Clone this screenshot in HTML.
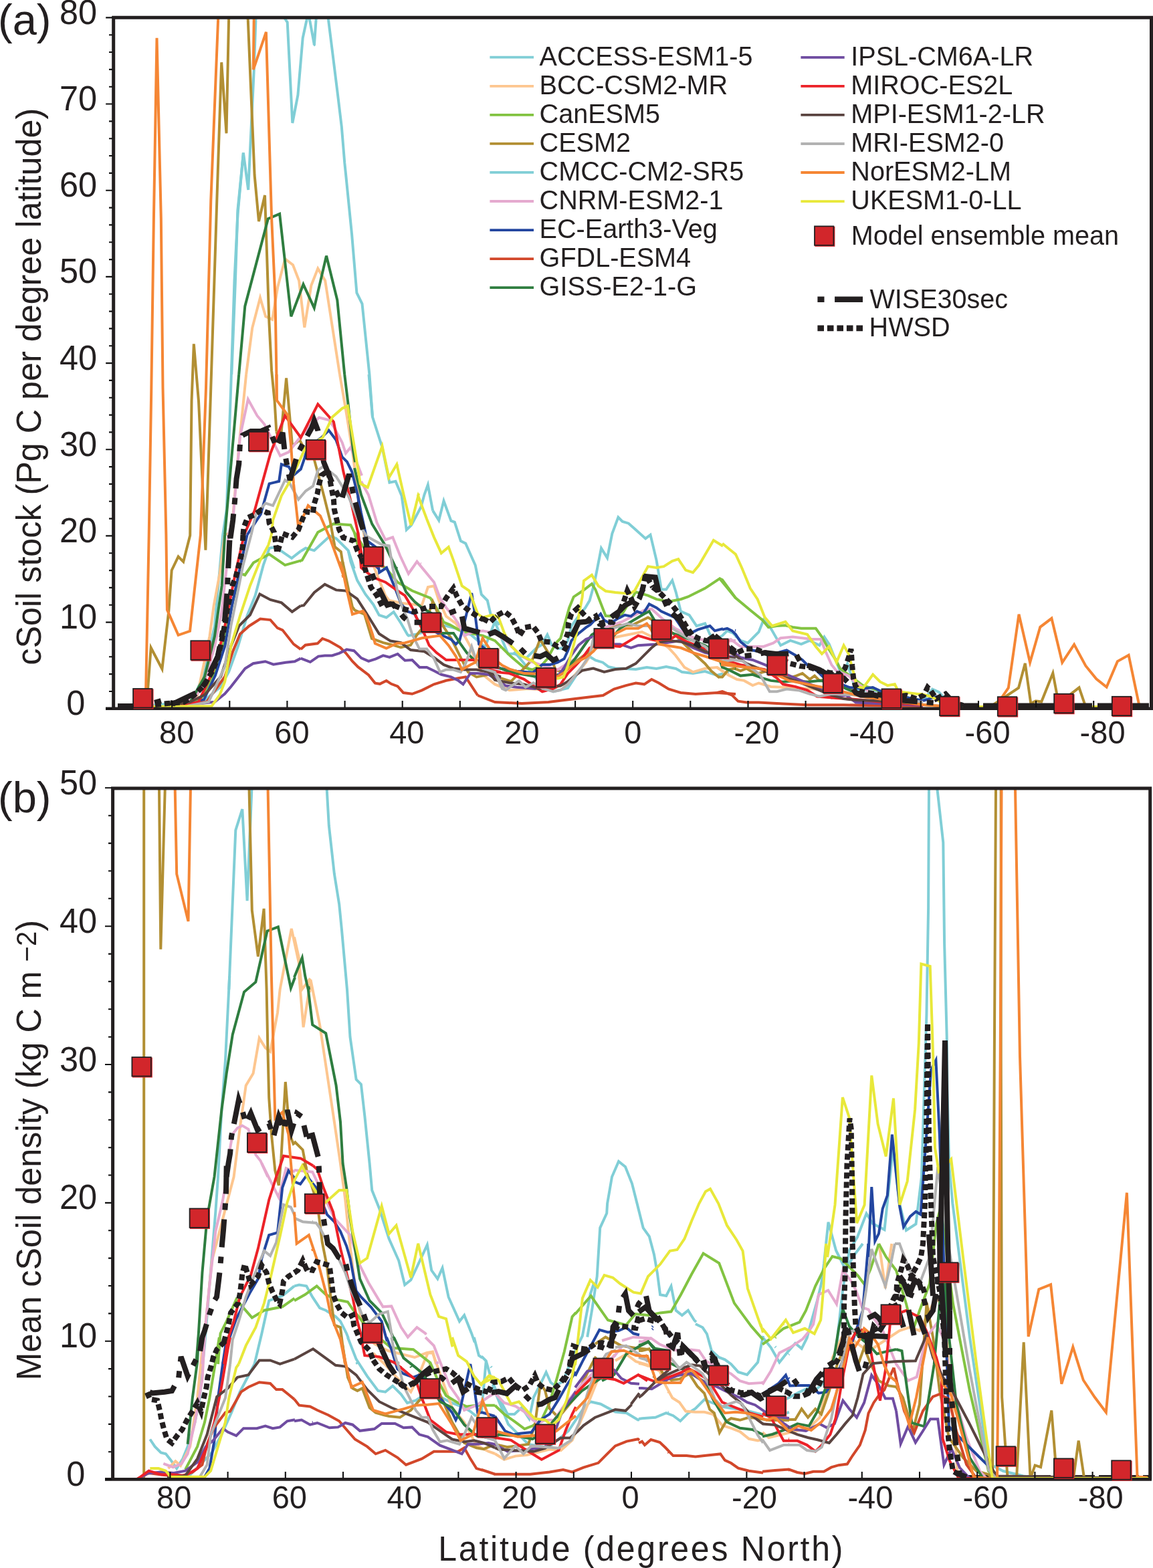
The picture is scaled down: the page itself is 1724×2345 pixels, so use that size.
<!DOCTYPE html><html><head><meta charset="utf-8"><title>cSoil latitude profiles</title><style>
html,body{margin:0;padding:0;background:#fff;overflow:hidden;}
svg{display:block;}
text{font-family:"Liberation Sans",Arial,Helvetica,sans-serif;fill:#231f20;}
</style></head><body><svg xmlns="http://www.w3.org/2000/svg" width="1724" height="2345" viewBox="0 0 1724 2345"><defs><clipPath id="ca"><rect x="170" y="28" width="1550" height="1030"/></clipPath><clipPath id="cb"><rect x="169" y="1181" width="1549" height="1030"/></clipPath></defs>
<path d="M214.0,1056.0 260.0,1052.0 293.8,1034.6 306.0,1004.3 321.0,936.2 333.2,800.0 338.9,761.6 345.2,580.0 350.5,420.0 355.5,320.0 363.9,228.5 371.2,283.9 379.7,105.9 382.5,27.8 400.0,-40.0 426.0,27.8 429.7,33.3 437.3,184.0 445.4,142.2 452.7,56.9 459.0,27.8 461.0,15.0 462.7,27.8 469.9,66.9" fill="none" stroke="#80ced6" stroke-width="4.0" stroke-linejoin="miter" stroke-miterlimit="4" stroke-linecap="butt" clip-path="url(#ca)" />
<path d="M300.0,1052.0 330.1,1027.0 342.3,1004.3 355.9,966.5 369.5,921.0 381.6,890.8 393.7,845.4 402.8,819.7 411.9,818.2 436.1,834.8 449.7,824.2" fill="none" stroke="#80ced6" stroke-width="4.0" stroke-linejoin="miter" stroke-miterlimit="4" stroke-linecap="butt" clip-path="url(#ca)" />
<path d="M449.7,824.2 457.1,819.7 469.8,823.3 493.4,801.5 502.5,805.1 520.7,823.3 529.7,850.5" fill="none" stroke="#80ced6" stroke-width="4.0" stroke-linejoin="miter" stroke-miterlimit="4" stroke-linecap="butt" clip-path="url(#ca)" />
<path d="M551.5,560.0 557.0,623.6 571.5,669.0 582.4,721.6 591.5,719.8 600.6,741.6 607.8,792.4 615.1,785.2 629.6,758.0" fill="none" stroke="#80ced6" stroke-width="4.0" stroke-linejoin="miter" stroke-miterlimit="4" stroke-linecap="butt" clip-path="url(#ca)" />
<path d="M346.3,560.0 351.8,423.4 355.4,314.5 360.9,260.0 363.9,228.5" fill="none" stroke="#80ced6" stroke-width="4.0" stroke-linejoin="miter" stroke-miterlimit="4" stroke-linecap="butt" clip-path="url(#ca)" />
<path d="M468.7,67.8 469.9,66.9 472.7,27.8 481.0,-20.0 490.8,27.8 496.3,71.4 505.3,144.0 510.8,189.4 515.3,243.9 517.0,260.0 526.1,350.8 533.4,438.0 541.5,454.3 552.4,560.0 557.0,623.6" fill="none" stroke="#80ced6" stroke-width="4.0" stroke-linejoin="miter" stroke-miterlimit="4" stroke-linecap="butt" clip-path="url(#ca)" />
<path d="M647.1,763.6 656.2,778.1 663.5,749.1 674.4,779.0 679.8,780.9 688.9,809.0 696.2,812.6 703.4,829.0 710.7,845.3 719.8,888.9 728.8,898.0 734.3,921.6 747.0,934.3" fill="none" stroke="#80ced6" stroke-width="4.0" stroke-linejoin="miter" stroke-miterlimit="4" stroke-linecap="butt" clip-path="url(#ca)" />
<path d="M629.6,758.0 634.4,740.0 639.8,725.1 647.1,763.6" fill="none" stroke="#80ced6" stroke-width="4.0" stroke-linejoin="miter" stroke-miterlimit="4" stroke-linecap="butt" clip-path="url(#ca)" />
<path d="M520.7,823.3 524.4,840.0 534.1,867.8 546.2,888.4 558.3,904.2 566.8,919.9 577.7,923.5 588.6,915.1 599.5,932.0 609.2,949.0 610.8,950.6 621.7,948.8 634.4,945.2 645.0,942.0 658.0,936.1 667.1,936.1 681.6,939.7 694.4,947.0 703.4,948.8 714.3,957.9 725.0,968.0" fill="none" stroke="#80ced6" stroke-width="4.0" stroke-linejoin="miter" stroke-miterlimit="4" stroke-linecap="butt" clip-path="url(#ca)" />
<path d="M714.3,957.9 725.0,968.0 740.0,929.7 750.0,955.0 759.6,977.7 768.3,977.7 786.9,984.2 802.1,969.0 809.7,964.6 818.4,949.3 825.0,964.6 833.7,970.0 843.5,969.0 849.0,958.1 854.4,936.3 865.3,921.0 875.1,909.0 881.6,898.1 888.2,874.2 892.6,852.6 899.0,819.9 908.0,834.4 915.3,798.1 924.4,773.6 930.7,780.0 939.8,782.7 948.9,790.8 965.2,805.4 972.5,799.9 981.6,838.1 988.8,881.6 996.1,881.6 1005.2,868.0 1010.6,885.3 1017.9,914.3 1030.6,919.8 1041.5,936.1 1054.2,932.5 1061.5,948.8 1072.4,954.3 1073.4,953.8" fill="none" stroke="#80ced6" stroke-width="4.0" stroke-linejoin="miter" stroke-miterlimit="4" stroke-linecap="butt" clip-path="url(#ca)" />
<path d="M1099.0,951.8 1100.0,952.0" fill="none" stroke="#80ced6" stroke-width="4.0" stroke-linejoin="miter" stroke-miterlimit="4" stroke-linecap="butt" clip-path="url(#ca)" />
<path d="M768.8,974.3 790.0,1000.0 810.0,1025.0 827.2,1034.3 849.0,1028.9 865.0,1005.0 881.6,982.0 890.4,987.5 901.3,990.7 910.0,997.3 920.0,999.5 935.0,1000.0 950.7,1001.0 967.1,998.0 981.6,1000.0 996.1,997.0 1010.6,1000.0 1019.7,1005.0 1036.1,1007.0 1054.2,1004.0 1072.0,1010.0 1090.0,1005.0" fill="none" stroke="#80ced6" stroke-width="4.0" stroke-linejoin="miter" stroke-miterlimit="4" stroke-linecap="butt" clip-path="url(#ca)" />
<path d="M1072.4,954.3 1080.0,950.7 1087.3,943.4 1096.3,947.0 1107.2,957.9 1118.1,961.6 1134.5,945.2 1141.7,927.1 1152.6,939.8 1167.2,965.2 1181.7,957.9 1198.0,963.4 1210.7,957.9 1225.3,965.2 1232.5,952.5 1239.8,963.4 1247.1,981.5 1256.1,1003.3 1261.6,1003.3 1267.0,992.4 1279.7,1032.4 1294.3,1032.4 1320.0,1038.0 1350.0,1042.0 1380.0,1048.0" fill="none" stroke="#80ced6" stroke-width="4.0" stroke-linejoin="miter" stroke-miterlimit="4" stroke-linecap="butt" clip-path="url(#ca)" />
<path d="M1380.0,1048.0 1394.2,1030.8 1404.0,1035.2 1410.6,1042.8 1420.0,1052.0 1430.0,1057.0 1718.0,1057.0" fill="none" stroke="#80ced6" stroke-width="4.0" stroke-linejoin="miter" stroke-miterlimit="4" stroke-linecap="butt" clip-path="url(#ca)" />
<path d="M270.0,1056.0 295.0,1040.0 313.5,951.3 319.6,906.0 328.6,857.5 336.0,800.0" fill="none" stroke="#fdc68f" stroke-width="4.0" stroke-linejoin="miter" stroke-miterlimit="4" stroke-linecap="butt" clip-path="url(#ca)" />
<path d="M336.0,800.0 346.3,796.1 357.2,669.0 368.1,560.0" fill="none" stroke="#fdc68f" stroke-width="4.0" stroke-linejoin="miter" stroke-miterlimit="4" stroke-linecap="butt" clip-path="url(#ca)" />
<path d="M508.0,560.0 518.9,623.6 526.1,669.0 533.4,723.4 540.6,777.9 546.0,810.0" fill="none" stroke="#fdc68f" stroke-width="4.0" stroke-linejoin="miter" stroke-miterlimit="4" stroke-linecap="butt" clip-path="url(#ca)" />
<path d="M368.1,560.0 377.2,490.6 389.0,445.2 397.2,473.4 407.2,477.9 415.3,428.9 426.2,387.1 438.0,396.2 447.1,419.8 455.3,489.7 465.3,427.1 475.3,401.6 486.2,419.8 508.0,560.0" fill="none" stroke="#fdc68f" stroke-width="4.0" stroke-linejoin="miter" stroke-miterlimit="4" stroke-linecap="butt" clip-path="url(#ca)" />
<path d="M546.0,810.0 560.0,850.0 576.3,890.7 581.8,898.0 600.0,902.0 630.8,905.2 639.9,878.0 649.0,876.2 656.2,898.0 667.1,921.6 681.6,932.5 692.5,947.0 703.4,967.0 712.0,990.0 721.6,1008.8 722.6,1009.5" fill="none" stroke="#fdc68f" stroke-width="4.0" stroke-linejoin="miter" stroke-miterlimit="4" stroke-linecap="butt" clip-path="url(#ca)" />
<path d="M756.9,1028.3 757.9,1028.7" fill="none" stroke="#fdc68f" stroke-width="4.0" stroke-linejoin="miter" stroke-miterlimit="4" stroke-linecap="butt" clip-path="url(#ca)" />
<path d="M721.6,1008.8 740.0,1023.4 761.8,1032.2 790.0,1030.0 820.0,1032.0 849.0,1021.3 876.2,990.7 890.0,965.0 910.0,955.0 935.0,950.0 960.0,945.0 980.0,955.0 999.7,968.8 1010.0,980.0 1023.4,997.9 1036.1,1005.1 1054.2,999.7 1072.0,998.0 1090.0,1010.0" fill="none" stroke="#fdc68f" stroke-width="4.0" stroke-linejoin="miter" stroke-miterlimit="4" stroke-linecap="butt" clip-path="url(#ca)" />
<path d="M1072.0,998.0 1080.0,1003.3 1090.9,1010.6 1101.8,1016.0 1112.7,1017.9 1125.4,1025.1 1134.5,1021.5 1152.6,1027.0 1189.0,1028.8 1225.0,1031.0 1260.0,1036.0 1290.0,1042.0 1330.0,1048.0 1380.0,1054.0" fill="none" stroke="#fdc68f" stroke-width="4.0" stroke-linejoin="miter" stroke-miterlimit="4" stroke-linecap="butt" clip-path="url(#ca)" />
<path d="M270.0,1056.0 300.0,1046.0 321.0,1004.3 335.0,960.0 348.3,898.4 358.9,857.5 359.9,856.5" fill="none" stroke="#82c341" stroke-width="4.0" stroke-linejoin="miter" stroke-miterlimit="4" stroke-linecap="butt" clip-path="url(#ca)" />
<path d="M448.7,839.6 449.7,839.3" fill="none" stroke="#82c341" stroke-width="4.0" stroke-linejoin="miter" stroke-miterlimit="4" stroke-linecap="butt" clip-path="url(#ca)" />
<path d="M358.9,857.5 366.3,860.0 379.0,841.5 402.6,828.8 426.2,845.1 451.7,837.8 475.3,796.1 498.9,783.4 524.3,785.2 529.7,796.1 544.3,850.5" fill="none" stroke="#82c341" stroke-width="4.0" stroke-linejoin="miter" stroke-miterlimit="4" stroke-linecap="butt" clip-path="url(#ca)" />
<path d="M529.7,796.1 540.0,812.6 558.2,841.7 576.3,849.0 594.5,870.7 616.3,883.5 643.5,894.4 652.6,908.9 663.5,930.7 672.6,934.3 685.3,941.6 703.4,947.0 721.6,950.6 722.6,951.1" fill="none" stroke="#82c341" stroke-width="4.0" stroke-linejoin="miter" stroke-miterlimit="4" stroke-linecap="butt" clip-path="url(#ca)" />
<path d="M747.8,967.9 748.8,968.8" fill="none" stroke="#82c341" stroke-width="4.0" stroke-linejoin="miter" stroke-miterlimit="4" stroke-linecap="butt" clip-path="url(#ca)" />
<path d="M721.6,950.6 740.0,958.1 761.8,979.9 783.6,998.4 796.7,1001.6 810.8,994.0 818.4,985.3 827.2,969.0 832.6,960.2 838.1,954.8 843.5,936.3 851.1,909.0 857.7,892.7 870.7,884.0 884.9,873.1 890.4,881.8 905.6,921.0 920.0,922.1 927.1,923.4 941.6,899.8 950.7,885.3 968.9,890.7 981.6,896.2 999.7,899.8 1017.9,896.2 1028.8,892.5 1054.2,879.8 1076.0,865.3 1100.0,894.4" fill="none" stroke="#82c341" stroke-width="4.0" stroke-linejoin="miter" stroke-miterlimit="4" stroke-linecap="butt" clip-path="url(#ca)" />
<path d="M1076.0,865.3 1080.0,867.1 1100.0,894.4 1121.8,912.5 1139.9,927.1 1149.0,938.0 1161.7,936.1 1174.4,935.2 1185.3,938.0 1198.0,939.8 1219.8,939.8 1228.9,952.5 1238.0,968.8 1250.7,988.8 1256.1,999.7 1270.0,1010.0 1290.0,1025.0 1320.0,1035.0 1350.0,1042.0 1380.0,1048.0" fill="none" stroke="#82c341" stroke-width="4.0" stroke-linejoin="miter" stroke-miterlimit="4" stroke-linecap="butt" clip-path="url(#ca)" />
<path d="M213.0,1058.0 221.2,1028.5 225.7,968.7 242.4,1000.5 252.2,915.0 256.7,853.0 266.6,832.5 274.2,840.1 284.2,800.8 286.5,600.0 289.8,514.3 297.0,600.0 307.4,822.7 315.3,580.0 324.3,300.0 331.2,93.2 338.5,199.4 342.1,27.8 356.0,-60.0 370.7,27.8 375.2,135.0 380.6,262.0 387.0,331.0 396.0,292.0 398.8,372.6 402.4,481.6 406.1,554.2 410.6,600.0 413.3,645.4" fill="none" stroke="#b28f33" stroke-width="4.0" stroke-linejoin="miter" stroke-miterlimit="4" stroke-linecap="butt" clip-path="url(#ca)" />
<path d="M413.3,645.4 419.0,663.5 428.1,565.4 437.1,667.1 448.0,658.0 460.0,680.0 469.8,687.1 484.3,741.6 493.4,777.9 500.7,817.9 509.8,825.1 515.2,860.0" fill="none" stroke="#b28f33" stroke-width="4.0" stroke-linejoin="miter" stroke-miterlimit="4" stroke-linecap="butt" clip-path="url(#ca)" />
<path d="M512.3,840.0 522.0,886.0 526.9,907.8 530.5,912.6 545.0,918.7 555.9,955.0 572.9,961.1 587.4,964.7 599.5,968.3 614.0,964.7 623.7,949.0 635.0,935.0 647.1,899.8 663.5,937.9 674.4,954.3 685.3,976.1 699.8,1005.1 712.5,1012.4 730.7,1008.8 748.8,1014.2" fill="none" stroke="#b28f33" stroke-width="4.0" stroke-linejoin="miter" stroke-miterlimit="4" stroke-linecap="butt" clip-path="url(#ca)" />
<path d="M730.7,1008.8 748.8,1014.2 764.0,1019.1 772.7,1010.4 785.0,998.0 796.7,985.3 807.6,955.9 816.0,970.0 825.0,985.3 830.4,1001.6 840.0,1005.0 860.0,990.0 880.0,975.0 906.7,938.4 925.0,935.0 945.0,935.0 968.9,923.4 990.0,935.0 1010.0,950.0 1035.0,975.0 1054.2,992.4 1063.3,1003.3 1074.2,1012.4 1075.2,1011.4" fill="none" stroke="#b28f33" stroke-width="4.0" stroke-linejoin="miter" stroke-miterlimit="4" stroke-linecap="butt" clip-path="url(#ca)" />
<path d="M1099.0,1000.2 1100.0,1000.0" fill="none" stroke="#b28f33" stroke-width="4.0" stroke-linejoin="miter" stroke-miterlimit="4" stroke-linecap="butt" clip-path="url(#ca)" />
<path d="M1074.2,1012.4 1080.0,1012.4 1089.1,1001.5 1098.2,999.7 1107.2,1003.3 1116.3,999.7 1130.0,1008.0 1145.0,1004.0 1158.0,1008.0 1170.8,1010.6 1179.9,1014.2 1190.8,1010.6 1199.8,1007.0 1210.7,1016.0 1218.0,1010.6 1225.3,1017.9 1240.0,1015.0 1260.0,1025.0 1280.0,1035.0 1310.0,1045.0 1340.0,1050.0 1380.0,1054.0" fill="none" stroke="#b28f33" stroke-width="4.0" stroke-linejoin="miter" stroke-miterlimit="4" stroke-linecap="butt" clip-path="url(#ca)" />
<path d="M1380.0,1054.0 1420.0,1057.0 1484.0,1057.0 1486.3,1053.2 1523.0,1028.7 1532.8,992.1 1541.3,1052.0 1548.7,1048.3 1557.2,1049.5 1574.3,1006.7 1582.9,1052.0 1613.5,1028.3 1622.0,1053.2 1626.0,1057.0 1718.0,1057.0" fill="none" stroke="#b28f33" stroke-width="4.0" stroke-linejoin="miter" stroke-miterlimit="4" stroke-linecap="butt" clip-path="url(#ca)" />
<path d="M260.0,1056.0 290.0,1045.0 306.0,1019.4 321.0,966.5 331.7,913.5 339.2,845.4 341.5,800.0" fill="none" stroke="#e5aacf" stroke-width="4.0" stroke-linejoin="miter" stroke-miterlimit="4" stroke-linecap="butt" clip-path="url(#ca)" />
<path d="M341.5,800.0 348.2,777.9 359.0,652.6 370.9,597.2 384.5,621.7 395.4,634.5 404.4,652.6 419.0,681.7 431.7,676.2 442.6,661.7 460.0,640.0 477.1,624.5 491.6,628.1 498.9,638.1 511.6,661.7 517.0,678.0 524.3,669.0 535.2,696.2 541.0,711.2" fill="none" stroke="#e5aacf" stroke-width="4.0" stroke-linejoin="miter" stroke-miterlimit="4" stroke-linecap="butt" clip-path="url(#ca)" />
<path d="M628.6,842.9 629.6,843.3" fill="none" stroke="#e5aacf" stroke-width="4.0" stroke-linejoin="miter" stroke-miterlimit="4" stroke-linecap="butt" clip-path="url(#ca)" />
<path d="M540.0,720.0 550.9,740.0 563.6,781.8 576.3,807.2 587.2,803.6 598.1,830.8 610.8,858.0 623.5,839.9 649.0,870.7 658.0,894.4 667.1,908.9 678.0,921.6 685.3,932.5 694.4,950.6 707.1,945.2 721.6,943.4 722.6,943.6" fill="none" stroke="#e5aacf" stroke-width="4.0" stroke-linejoin="miter" stroke-miterlimit="4" stroke-linecap="butt" clip-path="url(#ca)" />
<path d="M755.1,957.2 756.1,957.9" fill="none" stroke="#e5aacf" stroke-width="4.0" stroke-linejoin="miter" stroke-miterlimit="4" stroke-linecap="butt" clip-path="url(#ca)" />
<path d="M721.6,943.4 739.7,947.0 756.3,958.1 776.0,977.9 792.3,988.6 810.0,995.0 833.7,1001.6 860.0,985.0 881.6,953.7 900.0,940.0 930.0,930.0 963.4,912.5 974.3,910.7 990.0,925.0 1010.0,940.0 1040.0,955.0 1070.0,960.0 1100.0,958.0" fill="none" stroke="#e5aacf" stroke-width="4.0" stroke-linejoin="miter" stroke-miterlimit="4" stroke-linecap="butt" clip-path="url(#ca)" />
<path d="M1070.0,960.0 1092.7,956.1 1107.2,967.0 1125.4,967.0 1141.7,967.0 1156.3,961.6 1167.2,954.3 1185.3,952.5 1199.8,954.3 1214.4,956.1 1227.1,956.1 1234.4,974.3 1243.4,994.2 1250.7,1003.3 1268.9,1010.6 1276.1,1017.9 1300.0,1035.0 1340.0,1045.0 1380.0,1050.0" fill="none" stroke="#e5aacf" stroke-width="4.0" stroke-linejoin="miter" stroke-miterlimit="4" stroke-linecap="butt" clip-path="url(#ca)" />
<path d="M280.0,1056.0 305.0,1046.0 322.0,1010.0 336.2,966.5 346.8,906.0 357.4,856.0 369.5,800.0" fill="none" stroke="#2346a0" stroke-width="4.0" stroke-linejoin="miter" stroke-miterlimit="4" stroke-linecap="butt" clip-path="url(#ca)" />
<path d="M369.5,800.0 389.9,768.8 402.6,723.4 409.9,721.6 417.2,719.8 420.8,694.4 431.7,698.0 439.0,710.7 449.8,701.6 455.3,685.3 458.9,672.6 470.0,662.0 480.7,654.4 491.6,643.5 502.5,658.0 511.6,683.5 518.9,690.7 526.1,705.3 535.2,741.6 538.8,777.9 547.9,805.1 557.0,841.5 566.1,850.5" fill="none" stroke="#2346a0" stroke-width="4.0" stroke-linejoin="miter" stroke-miterlimit="4" stroke-linecap="butt" clip-path="url(#ca)" />
<path d="M535.2,741.6 540.0,767.2 549.1,809.0 561.8,818.1 567.2,856.2 578.1,849.0 590.8,879.8 599.9,903.4 609.0,914.3 619.9,918.0 627.2,932.5 658.0,948.8 674.4,956.1 681.6,963.4 687.1,957.9 694.4,930.7 705.2,887.1 710.7,921.6 716.1,963.4 723.4,968.8 724.4,970.6" fill="none" stroke="#2346a0" stroke-width="4.0" stroke-linejoin="miter" stroke-miterlimit="4" stroke-linecap="butt" clip-path="url(#ca)" />
<path d="M756.9,1001.3 757.9,1001.5" fill="none" stroke="#2346a0" stroke-width="4.0" stroke-linejoin="miter" stroke-miterlimit="4" stroke-linecap="butt" clip-path="url(#ca)" />
<path d="M723.4,968.8 739.7,997.9 757.9,1001.5 772.7,1003.8 796.7,1006.0 810.8,994.0 822.8,994.0 833.7,990.7 843.5,985.3 849.0,973.3 854.4,958.1 865.3,947.2 876.2,938.4 882.7,934.1 898.1,918.0 903.4,927.6 912.6,932.5 923.5,925.2 934.4,919.8 943.5,921.6 952.5,914.3 961.6,918.0 970.7,903.4 981.6,908.9 988.8,914.3 1008.8,923.4 1020.0,940.0 1028.8,948.8 1043.3,941.6 1061.5,936.1 1068.8,943.4 1081.0,940.3" fill="none" stroke="#2346a0" stroke-width="4.0" stroke-linejoin="miter" stroke-miterlimit="4" stroke-linecap="butt" clip-path="url(#ca)" />
<path d="M1099.0,942.8 1100.0,943.0" fill="none" stroke="#2346a0" stroke-width="4.0" stroke-linejoin="miter" stroke-miterlimit="4" stroke-linecap="butt" clip-path="url(#ca)" />
<path d="M1080.0,941.6 1087.3,939.8 1094.5,943.4 1100.0,948.8 1107.2,959.7 1116.3,967.0 1125.4,972.5 1134.5,974.3 1149.0,977.9 1159.9,977.0 1176.2,972.5 1189.0,979.7 1199.8,987.0 1208.9,996.1 1221.6,1003.3 1230.7,1012.4 1250.0,1020.0 1270.0,1028.0 1290.0,1030.0 1305.0,1028.0 1320.0,1035.0 1340.0,1040.0 1380.0,1048.0" fill="none" stroke="#2346a0" stroke-width="4.0" stroke-linejoin="miter" stroke-miterlimit="4" stroke-linecap="butt" clip-path="url(#ca)" />
<path d="M1380.0,1048.0 1400.7,1041.7 1415.0,1050.0 1425.0,1057.0" fill="none" stroke="#2346a0" stroke-width="4.0" stroke-linejoin="miter" stroke-miterlimit="4" stroke-linecap="butt" clip-path="url(#ca)" />
<path d="M260.0,1056.0 309.0,1049.7 336.2,1011.9 348.3,974.0 358.9,948.3 372.5,936.2 389.2,925.6 404.3,927.1 414.9,939.2 422.5,942.3 439.1,963.4 449.7,971.0" fill="none" stroke="#d2472a" stroke-width="4.0" stroke-linejoin="miter" stroke-miterlimit="4" stroke-linecap="butt" clip-path="url(#ca)" />
<path d="M449.7,971.0 456.6,964.7 474.8,962.3 482.1,955.0 491.7,958.6 508.7,968.3 517.2,976.8 526.9,988.9 535.3,997.4 551.1,1009.5 560.8,1021.6 568.0,1022.8 577.7,1018.0 585.0,1022.8 594.6,1026.4 603.1,1036.1 616.3,1037.8 630.8,1032.4 649.0,1023.3 667.1,1017.8 685.3,1014.2 696.2,1012.4 703.4,1023.3 714.3,1040.0" fill="none" stroke="#d2472a" stroke-width="4.0" stroke-linejoin="miter" stroke-miterlimit="4" stroke-linecap="butt" clip-path="url(#ca)" />
<path d="M714.3,1040.0 740.0,1050.0 780.0,1052.0 820.0,1050.0 860.0,1045.0 885.0,1042.0 901.7,1040.0 918.0,1030.5 936.2,1025.1 950.7,1021.5 963.4,1023.3 974.3,1016.0 985.2,1021.5 999.7,1030.5 1017.9,1036.0 1040.0,1038.0 1072.4,1036.0 1100.0,1038.0" fill="none" stroke="#d2472a" stroke-width="4.0" stroke-linejoin="miter" stroke-miterlimit="4" stroke-linecap="butt" clip-path="url(#ca)" />
<path d="M1072.4,1036.0 1080.0,1034.2 1094.5,1039.6 1103.6,1048.7 1116.3,1050.5 1134.5,1050.5 1170.8,1052.4 1207.1,1054.2 1261.6,1054.2 1300.0,1055.0 1380.0,1056.0" fill="none" stroke="#d2472a" stroke-width="4.0" stroke-linejoin="miter" stroke-miterlimit="4" stroke-linecap="butt" clip-path="url(#ca)" />
<path d="M260.0,1056.0 284.7,1049.7 306.0,1011.9 321.0,951.3 331.7,875.7 336.2,800.0" fill="none" stroke="#2e7d3f" stroke-width="4.0" stroke-linejoin="miter" stroke-miterlimit="4" stroke-linecap="butt" clip-path="url(#ca)" />
<path d="M336.2,800.0 357.2,560.0" fill="none" stroke="#2e7d3f" stroke-width="4.0" stroke-linejoin="miter" stroke-miterlimit="4" stroke-linecap="butt" clip-path="url(#ca)" />
<path d="M515.2,560.0 520.7,605.4 527.9,672.6 531.0,691.2" fill="none" stroke="#2e7d3f" stroke-width="4.0" stroke-linejoin="miter" stroke-miterlimit="4" stroke-linecap="butt" clip-path="url(#ca)" />
<path d="M592.3,848.5 593.3,850.5" fill="none" stroke="#2e7d3f" stroke-width="4.0" stroke-linejoin="miter" stroke-miterlimit="4" stroke-linecap="butt" clip-path="url(#ca)" />
<path d="M357.2,560.0 366.3,457.9 400.8,327.2 418.1,319.9 435.3,473.4 453.5,425.2 469.8,460.7 488.0,382.6 504.3,448.8 515.2,560.0" fill="none" stroke="#2e7d3f" stroke-width="4.0" stroke-linejoin="miter" stroke-miterlimit="4" stroke-linecap="butt" clip-path="url(#ca)" />
<path d="M530.0,700.0 540.0,740.0 556.3,783.6 576.3,816.3 590.8,847.1 607.2,885.3 619.9,899.8 630.8,908.9 652.6,921.6 659.8,947.0 678.0,947.0 688.9,963.4 698.0,976.1 712.5,990.6 721.6,997.9 722.6,998.1" fill="none" stroke="#2e7d3f" stroke-width="4.0" stroke-linejoin="miter" stroke-miterlimit="4" stroke-linecap="butt" clip-path="url(#ca)" />
<path d="M756.9,1001.5 757.9,1001.5" fill="none" stroke="#2e7d3f" stroke-width="4.0" stroke-linejoin="miter" stroke-miterlimit="4" stroke-linecap="butt" clip-path="url(#ca)" />
<path d="M721.6,997.9 740.0,996.2 761.8,1004.9 798.8,1011.5 820.0,1012.0 840.0,1008.0 860.0,985.0 884.9,949.3 901.7,939.7 918.0,950.6 927.1,939.7 945.3,928.8 963.4,918.0 970.7,914.3 981.6,932.5 1000.0,945.0 1036.1,957.9 1054.2,965.2 1072.4,976.1 1073.4,977.3" fill="none" stroke="#2e7d3f" stroke-width="4.0" stroke-linejoin="miter" stroke-miterlimit="4" stroke-linecap="butt" clip-path="url(#ca)" />
<path d="M1099.0,999.8 1100.0,1000.0" fill="none" stroke="#2e7d3f" stroke-width="4.0" stroke-linejoin="miter" stroke-miterlimit="4" stroke-linecap="butt" clip-path="url(#ca)" />
<path d="M1072.4,976.1 1080.0,997.9 1089.1,1001.5 1107.2,1010.6 1125.4,1008.8 1139.9,1014.2 1152.6,1017.9 1170.8,1019.7 1189.0,1017.9 1207.1,1019.7 1225.3,1017.9 1245.0,1020.0 1265.0,1030.0 1290.0,1040.0 1320.0,1046.0 1350.0,1050.0 1380.0,1054.0" fill="none" stroke="#2e7d3f" stroke-width="4.0" stroke-linejoin="miter" stroke-miterlimit="4" stroke-linecap="butt" clip-path="url(#ca)" />
<path d="M260.0,1057.0 299.9,1052.0 321.0,1049.7 336.2,1037.6 345.3,1027.0 366.5,999.8 378.6,992.2 396.7,989.2 408.8,993.7 427.0,990.7 440.6,989.2 449.7,984.6" fill="none" stroke="#6f4ca1" stroke-width="4.0" stroke-linejoin="miter" stroke-miterlimit="4" stroke-linecap="butt" clip-path="url(#ca)" />
<path d="M449.7,984.6 451.8,985.3 463.9,990.1 476.0,981.6 485.7,980.4 496.6,980.4 507.5,976.8 518.4,971.4 529.3,973.2 540.2,984.1 551.1,988.9 562.0,985.3 572.9,980.4 582.5,982.9 594.6,978.0 605.5,987.7 616.3,987.0 627.2,997.9 638.1,997.9 649.0,1003.3 659.8,1008.8 674.4,1012.4 685.3,1017.8 692.5,1023.3 703.4,1006.9 714.3,1006.9 730.7,1008.8 748.8,1014.2" fill="none" stroke="#6f4ca1" stroke-width="4.0" stroke-linejoin="miter" stroke-miterlimit="4" stroke-linecap="butt" clip-path="url(#ca)" />
<path d="M730.7,1008.8 740.0,1014.7 756.3,1025.6 772.7,1027.8 799.9,1030.0 820.0,1025.0 834.8,1010.4 843.5,998.4 854.4,979.9 865.3,964.6 876.2,955.9 884.9,952.6 900.0,958.0 909.0,963.4 927.1,963.4 943.5,968.8 954.3,965.2 981.6,963.4 1017.9,957.9 1036.1,968.8 1054.2,976.1 1072.0,980.0 1100.0,983.0" fill="none" stroke="#6f4ca1" stroke-width="4.0" stroke-linejoin="miter" stroke-miterlimit="4" stroke-linecap="butt" clip-path="url(#ca)" />
<path d="M1072.0,980.0 1090.9,970.6 1107.2,983.3 1125.4,987.0 1143.6,994.2 1165.0,1004.0 1189.0,1014.2 1207.1,1021.5 1225.3,1028.8 1243.4,1043.3 1254.3,1041.5 1265.2,1039.6 1279.7,1050.5 1310.0,1052.0 1340.0,1053.0 1380.0,1055.0" fill="none" stroke="#6f4ca1" stroke-width="4.0" stroke-linejoin="miter" stroke-miterlimit="4" stroke-linecap="butt" clip-path="url(#ca)" />
<path d="M270.0,1056.0 296.9,1049.7 318.0,1004.3 333.2,951.3 345.3,890.8 351.3,860.5 365.0,800.0" fill="none" stroke="#ec2228" stroke-width="4.0" stroke-linejoin="miter" stroke-miterlimit="4" stroke-linecap="butt" clip-path="url(#ca)" />
<path d="M365.0,800.0 380.8,763.4 404.4,678.0 426.2,621.7 449.8,654.4 475.3,604.5 498.9,630.8 513.4,705.3 526.1,756.1 535.2,796.1 544.3,850.5" fill="none" stroke="#ec2228" stroke-width="4.0" stroke-linejoin="miter" stroke-miterlimit="4" stroke-linecap="butt" clip-path="url(#ca)" />
<path d="M535.2,796.1 540.0,849.0 558.2,863.5 576.3,870.7 594.5,883.5 605.4,890.7 616.3,908.9 623.5,925.2 632.6,943.4 641.7,965.2 652.6,976.1 667.1,987.0 685.3,987.0 712.5,987.0 730.7,1001.5 748.8,1005.1" fill="none" stroke="#ec2228" stroke-width="4.0" stroke-linejoin="miter" stroke-miterlimit="4" stroke-linecap="butt" clip-path="url(#ca)" />
<path d="M730.7,1001.5 740.0,1004.9 761.8,1007.1 783.6,1015.8 810.8,1034.3 827.2,1030.0 838.1,1023.4 849.0,1007.1 859.9,996.2 870.7,984.2 881.6,969.0 890.0,965.0 909.0,965.2 927.1,967.0 954.3,950.6 972.5,956.1 981.6,957.9 999.7,957.9 1010.6,950.6 1027.0,959.7 1054.2,970.6 1075.0,973.0 1100.0,978.0" fill="none" stroke="#ec2228" stroke-width="4.0" stroke-linejoin="miter" stroke-miterlimit="4" stroke-linecap="butt" clip-path="url(#ca)" />
<path d="M1075.0,973.0 1089.1,988.8 1107.2,994.2 1143.6,1001.5 1161.7,1014.2 1170.8,1023.3 1189.0,1026.9 1207.1,1032.4 1221.6,1041.5 1250.0,1044.0 1280.0,1046.0 1320.0,1050.0 1380.0,1054.0" fill="none" stroke="#ec2228" stroke-width="4.0" stroke-linejoin="miter" stroke-miterlimit="4" stroke-linecap="butt" clip-path="url(#ca)" />
<path d="M250.0,1056.0 284.7,1049.7 306.0,1039.1 330.1,1011.9 345.3,966.5 357.4,936.2 374.0,919.5 388.4,888.5 404.3,896.9 420.9,901.4 436.8,915.0 449.7,905.9" fill="none" stroke="#5a4440" stroke-width="4.0" stroke-linejoin="miter" stroke-miterlimit="4" stroke-linecap="butt" clip-path="url(#ca)" />
<path d="M449.7,905.9 454.2,905.4 470.0,886.0 485.7,873.9 502.6,882.4 517.2,883.6 534.1,895.7 545.0,912.6 557.1,932.0 566.8,947.7 583.8,958.6 599.5,961.1 614.0,972.0 634.4,974.3 649.0,983.3 663.5,994.2 678.0,999.7 694.4,1001.5 712.5,1001.5 730.7,1005.1 748.8,1012.4" fill="none" stroke="#5a4440" stroke-width="4.0" stroke-linejoin="miter" stroke-miterlimit="4" stroke-linecap="butt" clip-path="url(#ca)" />
<path d="M730.7,1005.1 740.0,1016.9 761.8,1021.3 783.6,1023.4 805.4,1030.0 820.0,1028.0 838.1,1025.6 849.0,1019.1 859.9,1010.4 870.7,1002.7 887.1,999.5 903.4,1004.9 920.0,1001.0 936.2,999.7 950.7,992.4 963.4,979.7 974.3,968.8 983.4,961.5 999.7,957.9 1017.9,959.7 1035.0,965.0 1054.2,974.3 1075.0,980.0 1100.0,985.0" fill="none" stroke="#5a4440" stroke-width="4.0" stroke-linejoin="miter" stroke-miterlimit="4" stroke-linecap="butt" clip-path="url(#ca)" />
<path d="M1075.0,980.0 1080.0,968.8 1098.2,979.7 1116.3,992.4 1134.5,999.7 1152.6,1007.0 1170.8,1012.4 1189.0,1017.9 1207.1,1025.1 1225.3,1032.4 1243.4,1039.6 1261.6,1045.1 1279.7,1046.9 1310.0,1048.0 1340.0,1050.0 1380.0,1053.0" fill="none" stroke="#5a4440" stroke-width="4.0" stroke-linejoin="miter" stroke-miterlimit="4" stroke-linecap="butt" clip-path="url(#ca)" />
<path d="M280.0,1056.0 312.0,1049.7 336.2,996.7 345.3,936.2 354.4,890.8 363.4,845.4 375.5,800.0" fill="none" stroke="#b2b2b2" stroke-width="4.0" stroke-linejoin="miter" stroke-miterlimit="4" stroke-linecap="butt" clip-path="url(#ca)" />
<path d="M375.5,800.0 382.7,768.8 397.2,752.5 408.1,756.1 426.2,718.0 433.5,723.4 446.2,747.0 457.1,734.3 468.0,727.0 475.3,703.5 482.5,698.0 493.4,705.3 502.5,712.5 511.6,727.1 520.7,741.6 529.7,763.4 538.8,787.0 547.9,801.5 548.9,802.5" fill="none" stroke="#b2b2b2" stroke-width="4.0" stroke-linejoin="miter" stroke-miterlimit="4" stroke-linecap="butt" clip-path="url(#ca)" />
<path d="M588.7,855.0 589.7,860.0" fill="none" stroke="#b2b2b2" stroke-width="4.0" stroke-linejoin="miter" stroke-miterlimit="4" stroke-linecap="butt" clip-path="url(#ca)" />
<path d="M547.9,801.5 550.9,803.6 570.9,814.5 581.8,816.3 587.2,849.0 594.5,885.3 601.7,908.9 609.0,925.2 616.3,948.8 627.2,970.6 638.1,970.6 649.0,985.1 658.0,1005.1 667.1,1001.5 678.0,1001.5 688.9,1005.1 696.2,992.4 705.2,967.0 714.3,994.2 721.6,999.7 739.7,1005.1 754.3,1030.5" fill="none" stroke="#b2b2b2" stroke-width="4.0" stroke-linejoin="miter" stroke-miterlimit="4" stroke-linecap="butt" clip-path="url(#ca)" />
<path d="M739.7,1005.1 750.9,1030.0 756.3,1032.2 776.0,1018.0 785.8,1027.8 797.7,1021.3 812.0,1030.0 827.2,1034.3 838.1,1032.2 849.0,1023.4 859.9,1010.4 870.7,996.2 881.6,979.9 887.2,955.0 900.0,945.0 927.1,936.1 938.0,932.5 954.3,936.1 970.7,936.1 999.7,936.1 1010.6,943.4 1030.0,955.0 1054.2,967.0 1072.4,983.3 1100.0,987.0" fill="none" stroke="#b2b2b2" stroke-width="4.0" stroke-linejoin="miter" stroke-miterlimit="4" stroke-linecap="butt" clip-path="url(#ca)" />
<path d="M1072.4,983.3 1080.0,988.8 1098.2,987.0 1110.9,988.8 1121.8,997.9 1136.3,1008.8 1150.8,1034.2 1161.7,1034.2 1176.2,1030.6 1194.4,1032.4 1210.7,1037.8 1225.3,1041.5 1243.4,1037.8 1279.7,1039.6 1310.0,1042.0 1340.0,1045.0 1380.0,1050.0" fill="none" stroke="#b2b2b2" stroke-width="4.0" stroke-linejoin="miter" stroke-miterlimit="4" stroke-linecap="butt" clip-path="url(#ca)" />
<path d="M213.0,1052.0 218.2,1028.5 222.7,800.0 226.3,580.0 229.9,326.0 234.5,56.9 240.8,326.0 243.5,580.0 248.4,800.0 249.9,912.0 266.6,949.8 284.0,943.8 299.9,800.0 308.0,580.0 315.3,300.0 326.2,27.0 352.0,-60.0" fill="none" stroke="#f58634" stroke-width="4.0" stroke-linejoin="miter" stroke-miterlimit="4" stroke-linecap="butt" clip-path="url(#ca)" />
<path d="M360.0,-60.0 379.7,27.8 378.8,104.1 397.9,47.8 406.1,326.0 411.5,445.0 414.0,598.0 414.5,598.8" fill="none" stroke="#f58634" stroke-width="4.0" stroke-linejoin="miter" stroke-miterlimit="4" stroke-linecap="butt" clip-path="url(#ca)" />
<path d="M512.4,859.5 513.4,863.6" fill="none" stroke="#f58634" stroke-width="4.0" stroke-linejoin="miter" stroke-miterlimit="4" stroke-linecap="butt" clip-path="url(#ca)" />
<path d="M598.5,963.8 599.5,963.6" fill="none" stroke="#f58634" stroke-width="4.0" stroke-linejoin="miter" stroke-miterlimit="4" stroke-linecap="butt" clip-path="url(#ca)" />
<path d="M413.5,560.0 413.5,598.1 430.8,621.7 435.3,669.0 439.0,723.4 446.2,788.8 460.7,756.1 478.9,771.5 493.4,805.1 513.4,860.0" fill="none" stroke="#f58634" stroke-width="4.0" stroke-linejoin="miter" stroke-miterlimit="4" stroke-linecap="butt" clip-path="url(#ca)" />
<path d="M507.5,840.0 512.3,852.1 517.2,876.3 526.9,918.7 542.6,913.8 546.2,918.7 551.1,930.8 557.1,949.0 560.8,962.3 577.7,969.5 593.4,962.3 605.4,961.5 618.1,957.9 630.8,954.3 658.0,950.6 670.7,965.2 681.6,981.5 690.7,1001.5 703.4,994.2 710.7,990.6 721.6,954.3 722.6,955.8" fill="none" stroke="#f58634" stroke-width="4.0" stroke-linejoin="miter" stroke-miterlimit="4" stroke-linecap="butt" clip-path="url(#ca)" />
<path d="M746.0,990.9 747.0,992.4" fill="none" stroke="#f58634" stroke-width="4.0" stroke-linejoin="miter" stroke-miterlimit="4" stroke-linecap="butt" clip-path="url(#ca)" />
<path d="M721.6,954.3 735.0,975.0 740.0,986.4 750.9,995.1 761.8,1000.6 783.6,1007.1 816.3,1008.2 832.6,1012.5 843.5,1006.0 854.4,996.2 865.3,988.6 876.2,983.1 887.1,974.4 900.0,960.0 918.0,948.8 936.2,939.7 954.3,939.7 967.1,932.5 972.5,939.7 985.2,963.4 1017.9,968.8 1036.1,976.1 1054.2,981.5 1080.0,990.0 1100.0,995.0" fill="none" stroke="#f58634" stroke-width="4.0" stroke-linejoin="miter" stroke-miterlimit="4" stroke-linecap="butt" clip-path="url(#ca)" />
<path d="M1080.0,990.0 1080.0,994.2 1098.2,996.1 1134.5,999.7 1152.6,1005.1 1179.9,1017.9 1198.0,1021.5 1216.2,1025.1 1234.4,1028.8 1252.5,1032.4 1288.8,1041.5 1320.0,1046.0 1350.0,1050.0 1380.0,1054.0" fill="none" stroke="#f58634" stroke-width="4.0" stroke-linejoin="miter" stroke-miterlimit="4" stroke-linecap="butt" clip-path="url(#ca)" />
<path d="M1380.0,1054.0 1420.0,1057.0 1490.0,1057.0 1498.5,1042.2 1507.8,1028.7 1523.5,918.7 1540.1,990.8 1555.3,937.8 1572.4,924.8 1588.3,990.8 1606.1,963.9 1623.3,995.7 1639.2,1015.3 1654.6,1027.5 1670.9,989.1 1687.6,979.8 1702.7,1052.0 1706.0,1057.0 1718.0,1057.0" fill="none" stroke="#f58634" stroke-width="4.0" stroke-linejoin="miter" stroke-miterlimit="4" stroke-linecap="butt" clip-path="url(#ca)" />
<path d="M214.0,1057.0 316.5,1056.0 328.6,1039.1 336.2,1019.4 345.3,966.5 358.9,921.0 374.0,875.7 389.2,837.8 401.3,815.1 405.8,800.0" fill="none" stroke="#e8e83a" stroke-width="4.0" stroke-linejoin="miter" stroke-miterlimit="4" stroke-linecap="butt" clip-path="url(#ca)" />
<path d="M405.8,800.0 408.1,777.9 420.8,741.6 433.5,719.8 446.2,692.6 457.1,669.0 470.0,662.0 482.5,654.4 497.1,623.6 511.6,610.8 519.8,607.2 538.8,723.4 549.7,728.9 571.5,667.1 581.5,714.3 593.3,694.4 594.3,698.6" fill="none" stroke="#e8e83a" stroke-width="4.0" stroke-linejoin="miter" stroke-miterlimit="4" stroke-linecap="butt" clip-path="url(#ca)" />
<path d="M625.0,742.5 626.0,738.0" fill="none" stroke="#e8e83a" stroke-width="4.0" stroke-linejoin="miter" stroke-miterlimit="4" stroke-linecap="butt" clip-path="url(#ca)" />
<path d="M593.3,694.4 603.6,740.0 614.5,785.4 625.3,741.8 638.1,776.3 649.0,803.6 659.8,827.2 670.7,818.1 678.0,838.1 690.7,876.2 701.6,883.5 708.9,903.4 714.3,918.0 721.6,923.4 722.6,923.2" fill="none" stroke="#e8e83a" stroke-width="4.0" stroke-linejoin="miter" stroke-miterlimit="4" stroke-linecap="butt" clip-path="url(#ca)" />
<path d="M746.0,924.7 747.0,925.2" fill="none" stroke="#e8e83a" stroke-width="4.0" stroke-linejoin="miter" stroke-miterlimit="4" stroke-linecap="butt" clip-path="url(#ca)" />
<path d="M721.6,923.4 736.1,919.8 745.4,923.2 754.2,947.2 765.1,966.8 778.1,979.9 789.0,985.3 796.7,988.6 805.4,997.3 820.0,1010.0 833.7,1014.7 842.4,1012.5 849.0,996.2 856.6,969.0 862.0,947.2 865.3,921.0 870.7,892.7 872.9,868.7 884.9,860.0 894.7,876.3 905.6,884.0 920.0,886.1 941.6,888.0 948.9,883.5 968.9,847.1 981.6,849.0 992.5,847.1 1005.2,839.0 1014.3,836.2 1025.2,852.6 1036.1,856.2 1045.1,845.3 1066.9,808.1 1081.0,816.7" fill="none" stroke="#e8e83a" stroke-width="4.0" stroke-linejoin="miter" stroke-miterlimit="4" stroke-linecap="butt" clip-path="url(#ca)" />
<path d="M1099.0,828.3 1100.0,829.0" fill="none" stroke="#e8e83a" stroke-width="4.0" stroke-linejoin="miter" stroke-miterlimit="4" stroke-linecap="butt" clip-path="url(#ca)" />
<path d="M1080.0,812.7 1100.0,829.0 1109.1,849.0 1121.8,879.8 1132.7,896.2 1143.6,923.4 1154.4,936.1 1174.4,929.8 1185.3,943.4 1207.1,948.8 1219.8,967.0 1228.9,977.9 1239.8,967.0 1250.7,990.6 1261.6,965.2 1268.9,977.9 1281.6,1026.9 1290.6,1028.8 1305.2,1008.8 1316.1,1019.7 1327.0,1025.1 1337.9,1023.3 1343.3,1034.2 1370.5,1037.8 1380.0,1038.0" fill="none" stroke="#e8e83a" stroke-width="4.0" stroke-linejoin="miter" stroke-miterlimit="4" stroke-linecap="butt" clip-path="url(#ca)" />
<path d="M1370.5,1037.8 1379.0,1038.4 1392.0,1041.7 1398.6,1045.0 1410.0,1052.0 1425.0,1057.0 1718.0,1057.0" fill="none" stroke="#e8e83a" stroke-width="4.0" stroke-linejoin="miter" stroke-miterlimit="4" stroke-linecap="butt" clip-path="url(#ca)" />
<path d="M176.0,1056.0 214.0,1056.0 241.0,1048.0 260.0,1052.0 285.0,1040.0 298.0,1034.0 308.0,1020.0 315.0,1004.0 325.6,981.6 331.7,951.3 336.2,925.6 338.0,906.0 340.0,880.0 341.0,855.0 343.8,800.0" fill="none" stroke="#231f20" stroke-width="8" stroke-linejoin="miter" stroke-miterlimit="4" stroke-linecap="butt" clip-path="url(#ca)" stroke-dasharray="42 14 10 14"/>
<path d="M343.8,800.0 344.5,805.0 348.2,778.0 350.9,751.0 353.6,716.0 357.2,694.0 359.0,662.0 362.7,651.0 375.0,645.0 390.0,645.0 401.7,640.0 413.5,669.0 422.6,647.0 426.2,680.0 433.5,718.0 445.3,678.0 455.0,660.0 466.0,640.0 469.8,629.0 475.3,643.5 484.0,691.0 497.0,723.0 510.0,750.0 522.0,709.0 530.0,747.0 546.0,803.0" fill="none" stroke="#231f20" stroke-width="8" stroke-linejoin="miter" stroke-miterlimit="4" stroke-linecap="butt" clip-path="url(#ca)" stroke-dasharray="42 14 10 14"/>
<path d="M546.0,803.0 554.5,852.6 558.2,863.5 570.9,888.9 578.1,903.4 587.2,903.4 596.3,914.3 603.6,923.4 612.6,930.7 623.5,930.7 644.0,931.0 663.5,919.8 683.5,912.5 690.7,921.6 694.4,939.7 710.0,944.0 721.6,947.0 730.7,948.8 731.7,948.0" fill="none" stroke="#231f20" stroke-width="8" stroke-linejoin="miter" stroke-miterlimit="4" stroke-linecap="butt" clip-path="url(#ca)" stroke-dasharray="42 14 10 14"/>
<path d="M753.3,951.8 754.3,952.5" fill="none" stroke="#231f20" stroke-width="8" stroke-linejoin="miter" stroke-miterlimit="4" stroke-linecap="butt" clip-path="url(#ca)" stroke-dasharray="42 14 10 14"/>
<path d="M730.7,948.8 740.0,945.0 750.9,951.5 767.2,962.4 776.0,967.9 787.9,979.9 794.5,979.9 807.6,982.0 816.3,977.7 827.2,987.5 838.1,982.0 849.0,963.5 854.4,952.6 859.9,941.7 865.3,930.8 876.2,929.7 883.8,927.6 890.4,927.6 900.0,935.0 916.5,921.0 925.0,915.0 935.0,905.0 945.0,900.0 955.0,895.0 962.0,880.0 966.0,862.0 979.8,863.5 985.2,887.1 992.5,896.2 999.7,912.5 1008.0,920.0 1016.1,927.0 1027.0,947.0 1036.1,959.7 1045.1,965.2 1055.0,960.0 1068.8,950.6" fill="none" stroke="#231f20" stroke-width="8" stroke-linejoin="miter" stroke-miterlimit="4" stroke-linecap="butt" clip-path="url(#ca)" stroke-dasharray="42 14 10 14"/>
<path d="M1068.8,950.6 1080.0,960.0 1092.0,972.0 1107.2,981.5 1125.4,979.7 1143.6,976.1 1160.0,978.0 1176.2,977.9 1189.0,976.1 1198.0,992.4 1210.7,996.1 1225.3,1001.5 1234.4,1007.0 1250.0,1010.0 1261.6,1014.2 1270.7,1023.3 1279.7,1036.0 1287.0,1039.6 1307.0,1039.6 1330.0,1045.0" fill="none" stroke="#231f20" stroke-width="8" stroke-linejoin="miter" stroke-miterlimit="4" stroke-linecap="butt" clip-path="url(#ca)" stroke-dasharray="42 14 10 14"/>
<path d="M1330.0,1045.0 1355.0,1048.0 1380.0,1050.0 1410.0,1052.0 1440.0,1055.0" fill="none" stroke="#231f20" stroke-width="8" stroke-linejoin="miter" stroke-miterlimit="4" stroke-linecap="butt" clip-path="url(#ca)" stroke-dasharray="42 14 10 14"/>
<path d="M176.0,1056.0 214.0,1056.0 250.0,1052.0 275.0,1050.0 290.0,1040.0 305.0,1025.0 318.0,1003.0 325.0,985.0 330.0,965.0 334.0,945.0 337.0,930.0 340.0,910.0 344.5,890.8 347.5,875.7 352.8,862.0 356.6,846.9 360.4,832.5 362.7,818.0 363.4,800.0" fill="none" stroke="#231f20" stroke-width="8" stroke-linejoin="miter" stroke-miterlimit="4" stroke-linecap="butt" clip-path="url(#ca)" stroke-dasharray="9 5"/>
<path d="M363.4,800.0 364.5,788.8 370.0,774.3 380.0,770.0 390.0,763.0 400.8,767.0 402.6,782.4 409.9,796.1 414.4,826.9 419.0,812.4 422.6,797.9 437.1,803.3 446.2,792.4 451.7,777.9 457.1,765.2 468.0,767.0 469.8,753.4 474.4,738.9 477.1,724.3 480.7,710.7 490.7,704.4 498.9,747.0 499.8,761.6 503.4,777.0 507.0,791.5 513.4,804.2 528.8,808.8 534.3,823.3 540.6,834.2" fill="none" stroke="#231f20" stroke-width="8" stroke-linejoin="miter" stroke-miterlimit="4" stroke-linecap="butt" clip-path="url(#ca)" stroke-dasharray="9 5"/>
<path d="M540.6,834.2 554.5,878.0 563.6,890.7 571.8,907.1 583.6,903.4 600.0,910.0 620.0,915.0 641.7,907.1 659.8,907.1 667.1,894.4 678.0,879.8 683.5,892.5 690.7,905.2 705.2,916.1 719.8,925.2 722.6,926.4" fill="none" stroke="#231f20" stroke-width="8" stroke-linejoin="miter" stroke-miterlimit="4" stroke-linecap="butt" clip-path="url(#ca)" stroke-dasharray="9 5"/>
<path d="M742.4,922.4 743.4,921.6" fill="none" stroke="#231f20" stroke-width="8" stroke-linejoin="miter" stroke-miterlimit="4" stroke-linecap="butt" clip-path="url(#ca)" stroke-dasharray="9 5"/>
<path d="M721.6,925.0 732.5,930.7 742.2,921.0 754.2,914.5 764.0,922.1 771.6,936.3 777.0,950.4 784.7,938.4 796.7,936.3 804.3,946.1 809.7,959.2 822.8,960.2 833.7,966.8 843.5,961.3 849.0,947.2 850.0,931.9 854.4,917.7 864.2,909.0 872.9,918.8 881.6,927.6 890.8,921.6 896.2,932.5 905.0,930.0 916.2,930.7 927.1,912.5 932.6,899.8 938.0,883.5 943.5,894.4 948.9,907.1 956.2,894.4 961.6,878.0 965.2,859.8 976.1,878.0" fill="none" stroke="#231f20" stroke-width="8" stroke-linejoin="miter" stroke-miterlimit="4" stroke-linecap="butt" clip-path="url(#ca)" stroke-dasharray="9 5"/>
<path d="M976.1,878.0 985.0,885.0 995.0,895.0 1005.0,905.0 1015.0,918.0 1025.0,935.0 1035.0,950.0 1045.0,955.0 1055.0,958.0 1068.0,960.0 1080.0,965.0 1092.7,968.8 1101.8,976.1 1114.5,970.6 1129.0,970.6 1143.6,976.1 1160.0,982.0 1181.7,992.4 1196.2,996.1 1210.7,997.9 1225.3,1003.3 1240.0,1006.0 1255.0,1008.0 1263.4,999.7 1268.9,983.3 1272.5,970.6 1274.3,996.1 1276.1,1014.2 1278.8,1025.1 1285.0,1034.0 1297.9,1036.0 1320.0,1040.0 1340.0,1042.0" fill="none" stroke="#231f20" stroke-width="8" stroke-linejoin="miter" stroke-miterlimit="4" stroke-linecap="butt" clip-path="url(#ca)" stroke-dasharray="9 5"/>
<path d="M1320.0,1040.0 1340.0,1042.0 1355.0,1040.0 1370.0,1045.0 1381.0,1040.0 1387.0,1028.0 1391.0,1032.0 1400.0,1045.0 1413.8,1038.0 1425.0,1050.0 1440.0,1055.0" fill="none" stroke="#231f20" stroke-width="8" stroke-linejoin="miter" stroke-miterlimit="4" stroke-linecap="butt" clip-path="url(#ca)" stroke-dasharray="9 5"/>
<path d="M1440,1055H1462M1470,1055H1633M1641,1055H1718" stroke="#231f20" stroke-width="7" fill="none"/>
<path d="M1445,2208.5H1718" stroke="#231f20" stroke-width="5" fill="none" stroke-dasharray="60 6"/>
<path d="M342.3,1480.0 352.3,1241.7 362.3,1210.0 369.6,1347.1 376.8,1170.0" fill="none" stroke="#80ced6" stroke-width="4.0" stroke-linejoin="miter" stroke-miterlimit="4" stroke-linecap="butt" clip-path="url(#cb)" />
<path d="M343.2,1460.0 336.9,1587.1 331.4,1659.7 326.0,1760.0 322.3,1812.6 313.3,1921.6 306.0,2012.4 303.0,2040.0" fill="none" stroke="#80ced6" stroke-width="4.0" stroke-linejoin="miter" stroke-miterlimit="4" stroke-linecap="butt" clip-path="url(#cb)" />
<path d="M440.0,1923.4 422.2,1937.9 402.2,1945.2 391.4,1994.2 380.5,2040.0" fill="none" stroke="#80ced6" stroke-width="4.0" stroke-linejoin="miter" stroke-miterlimit="4" stroke-linecap="butt" clip-path="url(#cb)" />
<path d="M224.3,2152.5 231.6,2163.4 240.6,2172.5 247.9,2174.3 255.2,2183.4 264.2,2196.1 273.3,2181.6 280.6,2163.4 291.5,2127.1 298.7,2090.8 303.0,2040.0" fill="none" stroke="#80ced6" stroke-width="4.0" stroke-linejoin="miter" stroke-miterlimit="4" stroke-linecap="butt" clip-path="url(#cb)" />
<path d="M380.5,2040.0 358.7,2081.7 346.0,2112.6 331.4,2145.3 316.9,2172.5 306.0,2183.4 295.0,2195.0 285.0,2205.0 270.0,2209.0" fill="none" stroke="#80ced6" stroke-width="4.0" stroke-linejoin="miter" stroke-miterlimit="4" stroke-linecap="butt" clip-path="url(#cb)" />
<path d="M376.8,1170.0 430.0,1100.0 488.1,1170.0 491.8,1234.5 499.9,1307.1 507.2,1352.5 510.8,1388.8 519.0,1480.0 523.5,1550.8 532.6,1614.3 539.9,1621.6 545.3,1668.8 552.6,1740.0 556.2,1780.0 567.1,1807.2 581.6,1852.6 596.2,1885.3 605.2,1921.6 614.3,1914.3 627.0,1887.1 638.8,1861.7 645.2,1899.8 654.3,1912.5 661.5,1896.2 670.6,1939.7 687.0,1976.1 694.2,1967.0 705.1,1994.2 709.8,2007.6" fill="none" stroke="#80ced6" stroke-width="4.0" stroke-linejoin="miter" stroke-miterlimit="4" stroke-linecap="butt" clip-path="url(#cb)" />
<path d="M734.0,2043.7 735.0,2045.0" fill="none" stroke="#80ced6" stroke-width="4.0" stroke-linejoin="miter" stroke-miterlimit="4" stroke-linecap="butt" clip-path="url(#cb)" />
<path d="M440.0,1923.4 447.3,1921.6 458.2,1923.4 467.2,1939.7 478.1,1956.1 487.2,1959.7 501.7,1968.8 509.0,1976.1 518.1,1994.2 520.9,2001.3" fill="none" stroke="#80ced6" stroke-width="4.0" stroke-linejoin="miter" stroke-miterlimit="4" stroke-linecap="butt" clip-path="url(#cb)" />
<path d="M533.4,2037.0 534.4,2040.0" fill="none" stroke="#80ced6" stroke-width="4.0" stroke-linejoin="miter" stroke-miterlimit="4" stroke-linecap="butt" clip-path="url(#cb)" />
<path d="M519.9,2000.0 532.6,2032.7 549.0,2058.1 565.3,2079.9 576.2,2081.7 587.1,2072.6 599.8,2085.3 608.9,2098.1 621.6,2094.4 632.5,2087.2 645.0,2087.0 661.5,2090.8 676.1,2098.1 694.2,2105.3 703.3,2110.8 712.0,2118.0" fill="none" stroke="#80ced6" stroke-width="4.0" stroke-linejoin="miter" stroke-miterlimit="4" stroke-linecap="butt" clip-path="url(#cb)" />
<path d="M708.8,2000.0 716.0,2027.2 721.0,2030.5" fill="none" stroke="#80ced6" stroke-width="4.0" stroke-linejoin="miter" stroke-miterlimit="4" stroke-linecap="butt" clip-path="url(#cb)" />
<path d="M737.0,2070.3 738.0,2076.0" fill="none" stroke="#80ced6" stroke-width="4.0" stroke-linejoin="miter" stroke-miterlimit="4" stroke-linecap="butt" clip-path="url(#cb)" />
<path d="M712.0,2118.0 720.0,2110.0 726.8,2035.3" fill="none" stroke="#80ced6" stroke-width="4.0" stroke-linejoin="miter" stroke-miterlimit="4" stroke-linecap="butt" clip-path="url(#cb)" />
<path d="M720.0,2028.5 726.8,2035.3 733.6,2059.0 745.4,2089.5 759.0,2114.9 769.2,2114.9 780.0,2105.0 791.2,2121.7 798.0,2089.5 808.0,2070.0 816.6,2052.2 823.4,2067.5 830.2,2072.5 842.0,2065.8 852.0,2040.0 862.4,2014.9 870.8,1998.0 882.7,1935.3 887.8,1920.0" fill="none" stroke="#80ced6" stroke-width="4.0" stroke-linejoin="miter" stroke-miterlimit="4" stroke-linecap="butt" clip-path="url(#cb)" />
<path d="M738.0,2076.0 760.0,2130.0 790.0,2160.0 820.0,2165.0 850.0,2140.0 872.5,2106.4 882.7,2096.3 898.0,2099.7 920.0,2111.5 936.9,2113.2 953.9,2123.4 956.0,2123.2" fill="none" stroke="#80ced6" stroke-width="4.0" stroke-linejoin="miter" stroke-miterlimit="4" stroke-linecap="butt" clip-path="url(#cb)" />
<path d="M999.0,2112.3 1000.0,2112.0" fill="none" stroke="#80ced6" stroke-width="4.0" stroke-linejoin="miter" stroke-miterlimit="4" stroke-linecap="butt" clip-path="url(#cb)" />
<path d="M878.2,1999.7 885.0,1960.0 892.7,1909.0 897.2,1836.3 907.2,1814.5 908.1,1800.0 915.0,1760.0 925.0,1737.0 935.0,1745.0 945.0,1770.0 952.6,1800.0 961.7,1836.3 970.8,1849.0 978.0,1876.3 983.0,1905.0 987.1,1936.2 996.2,1938.0 1003.5,1923.5 1010.7,1959.8 1019.8,1967.1 1028.9,1959.8 1038.0,1974.3 1040.9,1977.2" fill="none" stroke="#80ced6" stroke-width="4.0" stroke-linejoin="miter" stroke-miterlimit="4" stroke-linecap="butt" clip-path="url(#cb)" />
<path d="M1159.0,2014.0 1160.0,2015.0" fill="none" stroke="#80ced6" stroke-width="4.0" stroke-linejoin="miter" stroke-miterlimit="4" stroke-linecap="butt" clip-path="url(#cb)" />
<path d="M1039.9,1980.0 1050.6,1985.3 1057.0,1995.0 1063.9,2020.0 1075.0,2030.0 1083.9,2033.3 1093.0,2040.0 1103.8,2051.9 1117.1,2055.9 1133.1,2037.3 1141.0,1997.8" fill="none" stroke="#80ced6" stroke-width="4.0" stroke-linejoin="miter" stroke-miterlimit="4" stroke-linecap="butt" clip-path="url(#cb)" />
<path d="M1179.0,2025.8 1180.0,2025.0" fill="none" stroke="#80ced6" stroke-width="4.0" stroke-linejoin="miter" stroke-miterlimit="4" stroke-linecap="butt" clip-path="url(#cb)" />
<path d="M955.0,2122.0 960.0,2121.2 980.0,2119.8 996.0,2113.2 1006.6,2117.2 1017.3,2125.2 1029.2,2113.2 1039.9,2106.5 1053.2,2093.2 1065.0,2098.0 1079.9,2103.9 1093.0,2106.0 1106.5,2107.8 1119.8,2110.5 1133.0,2114.0 1146.4,2117.2 1160.0,2118.0 1180.0,2112.0" fill="none" stroke="#80ced6" stroke-width="4.0" stroke-linejoin="miter" stroke-miterlimit="4" stroke-linecap="butt" clip-path="url(#cb)" />
<path d="M1140.0,1999.5 1152.7,2015.3 1165.4,2037.5 1178.0,2021.6 1189.1,2009.0 1198.6,2016.9 1206.6,2001.0 1212.9,1977.3 1222.0,1945.0 1228.0,1920.0 1232.0,1890.0 1235.1,1860.0" fill="none" stroke="#80ced6" stroke-width="4.0" stroke-linejoin="miter" stroke-miterlimit="4" stroke-linecap="butt" clip-path="url(#cb)" />
<path d="M1160.0,2100.0 1180.0,2090.0 1195.0,2082.0 1209.7,2075.5 1219.2,2078.7 1228.7,2070.8 1240.0,2050.0 1250.0,2020.0" fill="none" stroke="#80ced6" stroke-width="4.0" stroke-linejoin="miter" stroke-miterlimit="4" stroke-linecap="butt" clip-path="url(#cb)" />
<path d="M1250.0,2020.0 1260.0,1930.0 1270.0,1870.0 1282.0,1850.0 1295.5,1814.9 1305.0,1830.0 1322.5,1839.1 1335.3,1716.6 1345.0,1800.0 1355.0,1840.0 1369.5,1830.5 1378.0,1760.0 1385.4,1518.1 1388.1,1357.9 1389.0,1180.0 1395.0,1100.0 1401.4,1180.0 1410.3,1260.1 1412.1,1411.3 1415.7,1550.1 1416.5,1631.2 1419.3,1745.1 1424.4,1800.0 1450.0,2000.0 1478.1,2188.9 1500.0,2200.0 1530.0,2207.4 1560.0,2211.0 1718.0,2211.0" fill="none" stroke="#80ced6" stroke-width="4.0" stroke-linejoin="miter" stroke-miterlimit="4" stroke-linecap="butt" clip-path="url(#cb)" />
<path d="M1235.1,1860.0 1238.5,1827.7 1250.0,1870.0 1265.0,1900.0 1275.0,1880.0 1290.0,1860.0" fill="none" stroke="#80ced6" stroke-width="4.0" stroke-linejoin="miter" stroke-miterlimit="4" stroke-linecap="butt" clip-path="url(#cb)" />
<path d="M464.0,1463.3 451.3,1480.0 447.6,1443.3 435.8,1388.8 418.6,1480.0 415.0,1514.5 404.1,1572.6 396.8,1567.1 387.7,1552.6 378.6,1605.3 367.7,1623.4 358.7,1687.0 349.6,1760.0 340.5,1794.5 316.9,1885.3 306.0,1994.2 300.6,2040.0" fill="none" stroke="#fdc68f" stroke-width="4.0" stroke-linejoin="miter" stroke-miterlimit="4" stroke-linecap="butt" clip-path="url(#cb)" />
<path d="M447.6,1460.0 448.6,1471.9" fill="none" stroke="#fdc68f" stroke-width="4.0" stroke-linejoin="miter" stroke-miterlimit="4" stroke-linecap="butt" clip-path="url(#cb)" />
<path d="M463.0,1484.0 464.0,1478.2" fill="none" stroke="#fdc68f" stroke-width="4.0" stroke-linejoin="miter" stroke-miterlimit="4" stroke-linecap="butt" clip-path="url(#cb)" />
<path d="M251.5,2196.1 262.4,2185.2 270.0,2192.0 284.2,2163.4 295.1,2090.8 302.4,2018.2 303.0,2000.0" fill="none" stroke="#fdc68f" stroke-width="4.0" stroke-linejoin="miter" stroke-miterlimit="4" stroke-linecap="butt" clip-path="url(#cb)" />
<path d="M440.0,1401.5 447.3,1434.2 447.3,1460.0 453.6,1536.3 464.5,1465.4 478.1,1532.6 489.0,1605.3 499.9,1677.9 509.0,1740.0 516.3,1794.5 521.7,1849.0 528.0,1900.0 535.0,1950.0 545.0,1990.0 560.0,2010.0 580.0,2020.0 600.0,2025.0 620.0,2030.0 637.9,2023.3 647.0,2021.5 652.0,2040.0" fill="none" stroke="#fdc68f" stroke-width="4.0" stroke-linejoin="miter" stroke-miterlimit="4" stroke-linecap="butt" clip-path="url(#cb)" />
<path d="M558.0,2023.6 575.0,2040.0 595.0,2062.0 614.3,2081.7 623.4,2063.6 634.3,2036.3 639.7,2023.6 647.0,2023.6 660.0,2060.0 676.1,2105.3 694.2,2127.1 712.4,2161.6 730.5,2170.7 740.0,2174.0" fill="none" stroke="#fdc68f" stroke-width="4.0" stroke-linejoin="miter" stroke-miterlimit="4" stroke-linecap="butt" clip-path="url(#cb)" />
<path d="M740.0,2174.0 753.9,2182.7 770.8,2177.6 787.8,2175.9 821.7,2167.5 838.6,2169.2 855.6,2153.9 875.0,2110.0 895.0,2060.0 918.3,2026.8 921.0,2027.0" fill="none" stroke="#fdc68f" stroke-width="4.0" stroke-linejoin="miter" stroke-miterlimit="4" stroke-linecap="butt" clip-path="url(#cb)" />
<path d="M968.0,2042.6 969.0,2043.0" fill="none" stroke="#fdc68f" stroke-width="4.0" stroke-linejoin="miter" stroke-miterlimit="4" stroke-linecap="butt" clip-path="url(#cb)" />
<path d="M999.0,2081.2 1000.0,2082.7" fill="none" stroke="#fdc68f" stroke-width="4.0" stroke-linejoin="miter" stroke-miterlimit="4" stroke-linecap="butt" clip-path="url(#cb)" />
<path d="M920.0,2035.0 936.3,2025.2 950.8,2036.1 969.0,2041.5" fill="none" stroke="#fdc68f" stroke-width="4.0" stroke-linejoin="miter" stroke-miterlimit="4" stroke-linecap="butt" clip-path="url(#cb)" />
<path d="M955.0,2039.0 960.0,2039.9 973.3,2043.9 986.6,2050.6 994.6,2070.6 1005.3,2090.5 1015.9,2097.2 1025.3,2110.5 1039.9,2111.8 1053.2,2111.8 1066.0,2115.0 1079.9,2131.8 1093.2,2135.8 1106.5,2141.1 1119.8,2151.8 1133.1,2154.5 1141.0,2152.9" fill="none" stroke="#fdc68f" stroke-width="4.0" stroke-linejoin="miter" stroke-miterlimit="4" stroke-linecap="butt" clip-path="url(#cb)" />
<path d="M1179.0,2150.9 1180.0,2151.0" fill="none" stroke="#fdc68f" stroke-width="4.0" stroke-linejoin="miter" stroke-miterlimit="4" stroke-linecap="butt" clip-path="url(#cb)" />
<path d="M1140.0,2142.1 1149.5,2150.0 1170.0,2145.0 1195.5,2138.9 1210.0,2135.0 1225.6,2119.9 1235.0,2080.0 1245.0,2030.0 1260.4,1996.3 1270.0,2000.0 1279.5,2007.4 1290.0,2015.0 1300.0,2020.0" fill="none" stroke="#fdc68f" stroke-width="4.0" stroke-linejoin="miter" stroke-miterlimit="4" stroke-linecap="butt" clip-path="url(#cb)" />
<path d="M1314.3,1860.0 1323.8,1926.6 1333.3,1860.0" fill="none" stroke="#fdc68f" stroke-width="4.0" stroke-linejoin="miter" stroke-miterlimit="4" stroke-linecap="butt" clip-path="url(#cb)" />
<path d="M1300.0,2020.0 1315.0,2010.0 1330.0,2000.0 1345.0,1990.0 1360.0,1985.0 1375.0,1990.0 1390.0,1960.0 1400.0,1940.0 1412.0,1960.0 1420.0,2060.0 1428.0,2150.0 1432.0,2211.0 1718.0,2211.0" fill="none" stroke="#fdc68f" stroke-width="4.0" stroke-linejoin="miter" stroke-miterlimit="4" stroke-linecap="butt" clip-path="url(#cb)" />
<path d="M440.4,1941.6 422.2,1954.3 395.0,1959.7 376.8,1970.6 353.2,1943.4 338.7,1976.1 329.6,1994.2 326.0,2040.0" fill="none" stroke="#82c341" stroke-width="4.0" stroke-linejoin="miter" stroke-miterlimit="4" stroke-linecap="butt" clip-path="url(#cb)" />
<path d="M277.0,2197.9 295.1,2163.4 306.0,2127.1 313.3,2090.8 322.3,2036.3 327.8,2000.0" fill="none" stroke="#82c341" stroke-width="4.0" stroke-linejoin="miter" stroke-miterlimit="4" stroke-linecap="butt" clip-path="url(#cb)" />
<path d="M440.0,1945.2 456.3,1936.1 473.6,1923.4 487.2,1936.1 501.7,1943.4 519.9,1947.0 527.2,1957.9 541.7,1976.1 560.0,1995.0 585.3,2016.0 586.3,2016.0" fill="none" stroke="#82c341" stroke-width="4.0" stroke-linejoin="miter" stroke-miterlimit="4" stroke-linecap="butt" clip-path="url(#cb)" />
<path d="M642.0,2038.8 643.0,2040.0" fill="none" stroke="#82c341" stroke-width="4.0" stroke-linejoin="miter" stroke-miterlimit="4" stroke-linecap="butt" clip-path="url(#cb)" />
<path d="M585.3,2016.0 592.5,2016.3 618.0,2018.2 643.4,2038.1 655.0,2065.0 667.0,2087.2 685.1,2098.1 697.9,2103.5 712.4,2101.7 740.0,2101.7" fill="none" stroke="#82c341" stroke-width="4.0" stroke-linejoin="miter" stroke-miterlimit="4" stroke-linecap="butt" clip-path="url(#cb)" />
<path d="M740.0,2101.7 753.9,2114.9 770.8,2126.8 784.4,2137.0 797.0,2132.0 809.8,2123.4 821.7,2098.0 831.9,2064.1 843.7,2021.7 855.6,1969.2 861.0,1963.2" fill="none" stroke="#82c341" stroke-width="4.0" stroke-linejoin="miter" stroke-miterlimit="4" stroke-linecap="butt" clip-path="url(#cb)" />
<path d="M999.0,1962.0 1000.0,1962.0" fill="none" stroke="#82c341" stroke-width="4.0" stroke-linejoin="miter" stroke-miterlimit="4" stroke-linecap="butt" clip-path="url(#cb)" />
<path d="M860.0,1965.2 883.6,1938.0 909.0,1974.3 936.3,1981.6 950.0,1965.0 969.0,1967.1 987.1,1963.4 1003.5,1961.6 1018.0,1936.2 1034.3,1905.3 1051.6,1874.5 1075.2,1889.0 1097.9,1948.9 1123.3,1983.4 1141.0,2003.8" fill="none" stroke="#82c341" stroke-width="4.0" stroke-linejoin="miter" stroke-miterlimit="4" stroke-linecap="butt" clip-path="url(#cb)" />
<path d="M1159.0,2000.8 1160.0,2000.0" fill="none" stroke="#82c341" stroke-width="4.0" stroke-linejoin="miter" stroke-miterlimit="4" stroke-linecap="butt" clip-path="url(#cb)" />
<path d="M1140.0,2010.6 1155.8,1999.5 1171.7,1986.8 1195.5,1977.3 1205.0,1960.0 1219.2,1923.4 1231.9,1898.0 1244.6,1879.0 1257.3,1882.2 1266.8,1891.7 1282.6,1907.5 1292.1,1920.2 1301.6,1898.0 1314.0,1860.0" fill="none" stroke="#82c341" stroke-width="4.0" stroke-linejoin="miter" stroke-miterlimit="4" stroke-linecap="butt" clip-path="url(#cb)" />
<path d="M1314.0,1860.0 1325.0,1880.0 1340.0,1900.0 1355.0,1950.0 1365.0,1990.0 1375.0,1960.0 1390.0,1920.0 1400.0,1830.0 1408.0,1800.0 1416.0,1880.0 1425.0,1950.0 1450.0,2080.0 1478.0,2200.0 1490.0,2211.0 1718.0,2211.0" fill="none" stroke="#82c341" stroke-width="4.0" stroke-linejoin="miter" stroke-miterlimit="4" stroke-linecap="butt" clip-path="url(#cb)" />
<path d="M215.2,1170.0 215.2,2212.0" fill="none" stroke="#b28f33" stroke-width="4.0" stroke-linejoin="miter" stroke-miterlimit="4" stroke-linecap="butt" clip-path="url(#cb)" />
<path d="M237.9,1170.0 240.3,1419.7 247.0,1170.0" fill="none" stroke="#b28f33" stroke-width="4.0" stroke-linejoin="miter" stroke-miterlimit="4" stroke-linecap="butt" clip-path="url(#cb)" />
<path d="M372.3,1170.0 376.8,1361.6 385.9,1430.6 394.6,1358.9 398.6,1480.0 400.4,1569.0 402.2,1641.6 405.9,1696.1 411.3,1750.5 416.8,1772.7 420.4,1732.4 426.8,1618.0 433.1,1696.1 438.6,1710.6 441.0,1709.0" fill="none" stroke="#b28f33" stroke-width="4.0" stroke-linejoin="miter" stroke-miterlimit="4" stroke-linecap="butt" clip-path="url(#cb)" />
<path d="M457.5,1744.8 458.5,1750.5" fill="none" stroke="#b28f33" stroke-width="4.0" stroke-linejoin="miter" stroke-miterlimit="4" stroke-linecap="butt" clip-path="url(#cb)" />
<path d="M458.5,1750.5 452.7,1719.7 440.0,1707.0" fill="none" stroke="#b28f33" stroke-width="4.0" stroke-linejoin="miter" stroke-miterlimit="4" stroke-linecap="butt" clip-path="url(#cb)" />
<path d="M452.7,1740.0 465.0,1770.0 474.5,1799.9 481.8,1858.0 489.0,1894.4 494.5,1939.7 499.9,1981.5 509.0,1985.1 512.0,2010.0 516.0,2040.0" fill="none" stroke="#b28f33" stroke-width="4.0" stroke-linejoin="miter" stroke-miterlimit="4" stroke-linecap="butt" clip-path="url(#cb)" />
<path d="M512.0,2010.0 520.0,2060.0 527.2,2076.3 534.4,2079.9 541.7,2076.3 552.6,2105.3 561.7,2112.6 574.4,2116.2 581.6,2118.0 598.0,2119.8 614.3,2109.0 627.0,2094.4 640.0,2086.0 657.9,2085.3 676.1,2127.1 694.2,2158.0 712.4,2165.2 723.3,2167.1 740.0,2160.0" fill="none" stroke="#b28f33" stroke-width="4.0" stroke-linejoin="miter" stroke-miterlimit="4" stroke-linecap="butt" clip-path="url(#cb)" />
<path d="M740.0,2160.0 759.0,2164.1 790.0,2160.0 799.7,2131.9 808.1,2069.2 814.9,2079.3 821.7,2106.4 835.0,2120.0 860.0,2090.0 885.0,2040.0 891.0,2028.7" fill="none" stroke="#b28f33" stroke-width="4.0" stroke-linejoin="miter" stroke-miterlimit="4" stroke-linecap="butt" clip-path="url(#cb)" />
<path d="M968.0,2017.5 970.8,2018.3 985.0,2035.0 1000.0,2050.0" fill="none" stroke="#b28f33" stroke-width="4.0" stroke-linejoin="miter" stroke-miterlimit="4" stroke-linecap="butt" clip-path="url(#cb)" />
<path d="M890.0,2010.0 905.4,1999.7 929.0,2012.5 950.0,2016.0 969.0,2017.9" fill="none" stroke="#b28f33" stroke-width="4.0" stroke-linejoin="miter" stroke-miterlimit="4" stroke-linecap="butt" clip-path="url(#cb)" />
<path d="M955.0,2020.0 960.0,2020.0 970.7,2017.3 980.0,2035.0 993.3,2057.2 1003.9,2063.9 1015.9,2062.6 1030.6,2054.6 1042.6,2073.2 1053.2,2083.9 1061.2,2107.8 1067.9,2113.2 1075.9,2142.5 1085.2,2126.5 1093.2,2121.2 1106.5,2123.8 1119.8,2119.8 1133.1,2121.2 1150.0,2124.0 1180.0,2124.0" fill="none" stroke="#b28f33" stroke-width="4.0" stroke-linejoin="miter" stroke-miterlimit="4" stroke-linecap="butt" clip-path="url(#cb)" />
<path d="M1150.0,2120.0 1171.7,2123.1 1189.1,2123.1 1198.6,2107.2 1208.1,2119.9 1219.2,2107.2 1228.0,2115.0 1240.0,2080.0 1252.0,2040.0 1265.0,2010.0 1273.0,2020.0 1282.6,2042.2 1292.1,2015.3 1302.0,2040.0 1314.0,2065.0 1328.6,2072.4 1340.0,2074.0" fill="none" stroke="#b28f33" stroke-width="4.0" stroke-linejoin="miter" stroke-miterlimit="4" stroke-linecap="butt" clip-path="url(#cb)" />
<path d="M1340.0,2074.0 1350.0,2090.0 1365.0,2140.0 1375.0,2100.0 1385.6,1948.1 1395.0,2000.0 1405.0,2080.0 1418.9,2150.0 1440.0,2180.0 1460.0,2200.0 1478.0,2205.0 1484.0,2211.2 1486.8,1580.0 1489.0,1180.0 1493.0,1100.0 1496.7,1180.0 1496.7,1580.0 1498.1,2089.5 1506.6,2211.2 1520.0,2211.0 1530.7,2007.4 1540.6,2211.2 1547.6,2191.4 1556.1,2194.2 1572.3,2109.3 1580.2,2211.2 1605.0,2211.0 1612.7,2154.6 1621.2,2211.2 1718.0,2211.0" fill="none" stroke="#b28f33" stroke-width="4.0" stroke-linejoin="miter" stroke-miterlimit="4" stroke-linecap="butt" clip-path="url(#cb)" />
<path d="M400.4,1760.0 389.5,1736.0 382.3,1726.9 371.4,1688.8 362.3,1683.4 355.0,1687.0 347.8,1696.1 342.3,1726.9 342.3,1740.0 333.2,1794.5 322.3,1841.7 313.3,1921.6 307.8,1976.1 302.4,2040.0" fill="none" stroke="#e5aacf" stroke-width="4.0" stroke-linejoin="miter" stroke-miterlimit="4" stroke-linecap="butt" clip-path="url(#cb)" />
<path d="M391.4,1740.0 416.8,1790.8 427.7,1747.3 441.0,1752.4" fill="none" stroke="#e5aacf" stroke-width="4.0" stroke-linejoin="miter" stroke-miterlimit="4" stroke-linecap="butt" clip-path="url(#cb)" />
<path d="M467.0,1755.1 468.0,1755.0" fill="none" stroke="#e5aacf" stroke-width="4.0" stroke-linejoin="miter" stroke-miterlimit="4" stroke-linecap="butt" clip-path="url(#cb)" />
<path d="M244.3,2188.8 258.8,2194.3 271.5,2188.8 280.6,2174.3 291.5,2127.1 302.4,2063.6 306.0,2000.0" fill="none" stroke="#e5aacf" stroke-width="4.0" stroke-linejoin="miter" stroke-miterlimit="4" stroke-linecap="butt" clip-path="url(#cb)" />
<path d="M440.0,1750.0 467.2,1752.7 499.9,1821.7 523.5,1847.1 538.1,1892.5 550.8,1918.0 572.6,1954.3 585.3,1953.4 599.8,1985.1 609.8,1999.7 623.4,1985.1 636.1,1994.2 637.1,1995.9" fill="none" stroke="#e5aacf" stroke-width="4.0" stroke-linejoin="miter" stroke-miterlimit="4" stroke-linecap="butt" clip-path="url(#cb)" />
<path d="M653.3,2036.2 654.3,2040.0" fill="none" stroke="#e5aacf" stroke-width="4.0" stroke-linejoin="miter" stroke-miterlimit="4" stroke-linecap="butt" clip-path="url(#cb)" />
<path d="M636.1,2000.0 648.8,2012.7 657.9,2036.3 672.4,2072.6 685.1,2090.8 694.2,2109.0 712.4,2101.7 730.5,2089.0 740.0,2083.5" fill="none" stroke="#e5aacf" stroke-width="4.0" stroke-linejoin="miter" stroke-miterlimit="4" stroke-linecap="butt" clip-path="url(#cb)" />
<path d="M740.0,2083.5 753.9,2098.0 770.8,2103.0 784.4,2111.5 796.3,2123.4 804.7,2128.5 815.0,2124.0 828.5,2123.4 845.0,2100.0 870.0,2070.0 895.0,2045.0 918.3,2028.5 931.0,2012.6" fill="none" stroke="#e5aacf" stroke-width="4.0" stroke-linejoin="miter" stroke-miterlimit="4" stroke-linecap="butt" clip-path="url(#cb)" />
<path d="M971.6,2001.9 972.6,2001.7" fill="none" stroke="#e5aacf" stroke-width="4.0" stroke-linejoin="miter" stroke-miterlimit="4" stroke-linecap="butt" clip-path="url(#cb)" />
<path d="M999.0,2014.6 1000.0,2015.0" fill="none" stroke="#e5aacf" stroke-width="4.0" stroke-linejoin="miter" stroke-miterlimit="4" stroke-linecap="butt" clip-path="url(#cb)" />
<path d="M930.0,2005.0 947.2,1999.7 972.6,2001.6" fill="none" stroke="#e5aacf" stroke-width="4.0" stroke-linejoin="miter" stroke-miterlimit="4" stroke-linecap="butt" clip-path="url(#cb)" />
<path d="M955.0,2006.0 960.0,2006.6 973.3,2001.3 986.6,2010.6 1000.0,2016.0 1013.3,2020.0 1033.2,2018.6 1045.2,2020.0 1055.9,2035.9 1075.0,2045.0 1093.2,2054.6 1106.5,2065.2 1119.8,2069.2 1139.8,2067.9 1141.0,2066.3" fill="none" stroke="#e5aacf" stroke-width="4.0" stroke-linejoin="miter" stroke-miterlimit="4" stroke-linecap="butt" clip-path="url(#cb)" />
<path d="M1179.0,2016.4 1180.0,2016.0" fill="none" stroke="#e5aacf" stroke-width="4.0" stroke-linejoin="miter" stroke-miterlimit="4" stroke-linecap="butt" clip-path="url(#cb)" />
<path d="M1140.0,2070.8 1152.7,2050.2 1165.4,2023.2 1181.2,2015.3 1200.2,2002.6 1208.1,1993.1 1216.1,1980.4 1224.0,1936.1 1238.3,1929.7 1250.9,1950.3 1260.4,1899.6 1272.0,1915.0 1280.0,1930.0 1289.0,1955.1 1298.5,1958.3 1304.8,1969.3" fill="none" stroke="#e5aacf" stroke-width="4.0" stroke-linejoin="miter" stroke-miterlimit="4" stroke-linecap="butt" clip-path="url(#cb)" />
<path d="M1304.8,1969.3 1320.0,1990.0 1340.0,2040.0 1357.8,2064.8 1370.7,2059.3 1385.0,2000.0 1400.0,1980.0 1410.0,2000.0 1425.0,2080.0 1445.0,2150.0 1465.0,2200.0 1475.0,2211.0 1718.0,2211.0" fill="none" stroke="#e5aacf" stroke-width="4.0" stroke-linejoin="miter" stroke-miterlimit="4" stroke-linecap="butt" clip-path="url(#cb)" />
<path d="M458.5,1758.2 457.5,1760.2" fill="none" stroke="#2346a0" stroke-width="4.0" stroke-linejoin="miter" stroke-miterlimit="4" stroke-linecap="butt" clip-path="url(#cb)" />
<path d="M441.0,1762.4 440.4,1761.8 431.3,1750.9 422.2,1776.3 415.0,1843.5 402.2,1847.1 391.4,1881.6 385.9,1912.5 373.2,1934.3 353.2,1972.4 342.3,2003.3 333.0,2040.0" fill="none" stroke="#2346a0" stroke-width="4.0" stroke-linejoin="miter" stroke-miterlimit="4" stroke-linecap="butt" clip-path="url(#cb)" />
<path d="M270.0,2210.0 306.0,2208.8 313.3,2196.1 320.5,2154.4 326.0,2090.8 333.0,2040.0 338.7,2003.0" fill="none" stroke="#2346a0" stroke-width="4.0" stroke-linejoin="miter" stroke-miterlimit="4" stroke-linecap="butt" clip-path="url(#cb)" />
<path d="M440.0,1767.2 449.1,1770.9 458.2,1758.2 472.7,1776.3 489.0,1816.3 499.9,1827.2 509.0,1841.7 518.1,1863.5 523.5,1881.6 532.6,1930.7 539.9,1939.7 555.0,1955.0 570.7,1976.1 578.0,2003.3 579.0,2005.8" fill="none" stroke="#2346a0" stroke-width="4.0" stroke-linejoin="miter" stroke-miterlimit="4" stroke-linecap="butt" clip-path="url(#cb)" />
<path d="M589.7,2036.6 590.7,2040.0" fill="none" stroke="#2346a0" stroke-width="4.0" stroke-linejoin="miter" stroke-miterlimit="4" stroke-linecap="butt" clip-path="url(#cb)" />
<path d="M578.0,2000.0 585.3,2018.2 594.3,2047.2 603.4,2054.5 618.0,2059.9 627.0,2056.3 640.0,2065.0 657.9,2090.8 667.0,2101.7 676.1,2112.6 681.5,2123.5 687.0,2112.6 694.2,2079.9 703.3,2040.0 708.8,2072.6 714.2,2112.6 721.5,2112.6 740.0,2118.0" fill="none" stroke="#2346a0" stroke-width="4.0" stroke-linejoin="miter" stroke-miterlimit="4" stroke-linecap="butt" clip-path="url(#cb)" />
<path d="M740.0,2118.0 755.0,2140.0 767.5,2145.4 777.6,2143.7 794.6,2142.0 808.1,2123.4 821.7,2114.9 835.3,2092.9 848.8,2069.2 860.7,2052.2 861.0,2051.9" fill="none" stroke="#2346a0" stroke-width="4.0" stroke-linejoin="miter" stroke-miterlimit="4" stroke-linecap="butt" clip-path="url(#cb)" />
<path d="M975.2,1988.2 976.2,1987.3" fill="none" stroke="#2346a0" stroke-width="4.0" stroke-linejoin="miter" stroke-miterlimit="4" stroke-linecap="butt" clip-path="url(#cb)" />
<path d="M999.0,1997.7 1000.0,1998.0" fill="none" stroke="#2346a0" stroke-width="4.0" stroke-linejoin="miter" stroke-miterlimit="4" stroke-linecap="butt" clip-path="url(#cb)" />
<path d="M860.0,2057.9 870.9,2036.1 883.6,2012.5 896.3,1988.9 909.0,1992.5 925.0,1990.0 936.3,1985.2 947.2,1994.3 956.0,1996.5" fill="none" stroke="#2346a0" stroke-width="4.0" stroke-linejoin="miter" stroke-miterlimit="4" stroke-linecap="butt" clip-path="url(#cb)" />
<path d="M975.2,1984.4 976.2,1983.4" fill="none" stroke="#2346a0" stroke-width="4.0" stroke-linejoin="miter" stroke-miterlimit="4" stroke-linecap="butt" clip-path="url(#cb)" />
<path d="M1179.0,2060.6 1180.0,2062.0" fill="none" stroke="#2346a0" stroke-width="4.0" stroke-linejoin="miter" stroke-miterlimit="4" stroke-linecap="butt" clip-path="url(#cb)" />
<path d="M1140.0,2085.0 1163.8,2069.2 1174.9,2056.5 1181.2,2072.4 1195.0,2072.0 1210.0,2072.0 1224.0,2083.4 1235.1,2081.9 1250.0,2060.0 1262.0,2030.0 1275.0,2005.0 1290.0,1960.0 1298.5,1860.0" fill="none" stroke="#2346a0" stroke-width="4.0" stroke-linejoin="miter" stroke-miterlimit="4" stroke-linecap="butt" clip-path="url(#cb)" />
<path d="M1298.5,1860.0 1298.3,1880.0 1303.3,1775.0 1308.3,1856.2 1314.0,1844.8 1319.7,1807.8 1326.8,1787.8 1333.9,1696.7 1345.3,1804.9 1351.0,1834.8 1361.0,1819.1 1369.5,1812.0 1376.6,1816.3 1385.0,1700.0 1392.0,1600.0 1399.4,1585.6 1405.0,1700.0 1410.0,1850.0 1414.0,1980.0 1418.9,2133.3 1450.0,2165.0 1481.9,2196.3 1495.0,2211.0 1718.0,2211.0" fill="none" stroke="#2346a0" stroke-width="4.0" stroke-linejoin="miter" stroke-miterlimit="4" stroke-linecap="butt" clip-path="url(#cb)" />
<path d="M205.0,2212.0 222.5,2203.0 245.0,2206.0 270.0,2208.0 287.8,2201.6 302.4,2190.7 309.6,2159.8 320.0,2135.0 336.9,2112.6 344.1,2110.8 360.5,2081.7 371.4,2074.5 387.7,2067.2 404.1,2069.0 413.1,2078.1 422.2,2078.1 432.0,2086.0 440.0,2092.6" fill="none" stroke="#d2472a" stroke-width="4.0" stroke-linejoin="miter" stroke-miterlimit="4" stroke-linecap="butt" clip-path="url(#cb)" />
<path d="M440.0,2092.6 447.3,2101.7 463.6,2103.5 474.5,2109.0 490.8,2116.2 507.2,2125.3 518.1,2138.0 530.8,2152.5 549.0,2163.4 561.7,2174.3 576.2,2168.9 594.3,2179.8 607.1,2190.7 621.6,2185.2 630.7,2181.6 648.8,2170.7 667.0,2170.7 685.1,2170.7 694.2,2165.2 703.3,2181.6 712.4,2196.1 721.0,2198.7" fill="none" stroke="#d2472a" stroke-width="4.0" stroke-linejoin="miter" stroke-miterlimit="4" stroke-linecap="butt" clip-path="url(#cb)" />
<path d="M739.0,2204.6 740.0,2205.0" fill="none" stroke="#d2472a" stroke-width="4.0" stroke-linejoin="miter" stroke-miterlimit="4" stroke-linecap="butt" clip-path="url(#cb)" />
<path d="M720.0,2198.0 740.3,2204.7 770.8,2204.7 792.9,2204.7 821.7,2201.4 842.0,2198.0 855.6,2201.4 872.5,2194.6 894.6,2187.8 906.4,2175.9 920.0,2162.4 936.9,2155.6 953.9,2152.2 956.0,2153.9" fill="none" stroke="#d2472a" stroke-width="4.0" stroke-linejoin="miter" stroke-miterlimit="4" stroke-linecap="butt" clip-path="url(#cb)" />
<path d="M999.0,2171.6 1000.0,2172.5" fill="none" stroke="#d2472a" stroke-width="4.0" stroke-linejoin="miter" stroke-miterlimit="4" stroke-linecap="butt" clip-path="url(#cb)" />
<path d="M955.0,2158.0 960.0,2155.8 964.0,2161.1 973.3,2153.1 986.6,2157.1 995.0,2165.0 1006.6,2177.1 1026.6,2177.1 1039.9,2178.4 1053.2,2177.1 1077.2,2174.4 1083.9,2183.8 1093.0,2188.0 1103.8,2195.7 1119.8,2199.7 1139.8,2202.4 1141.0,2202.3" fill="none" stroke="#d2472a" stroke-width="4.0" stroke-linejoin="miter" stroke-miterlimit="4" stroke-linecap="butt" clip-path="url(#cb)" />
<path d="M1179.0,2198.5 1180.0,2198.4" fill="none" stroke="#d2472a" stroke-width="4.0" stroke-linejoin="miter" stroke-miterlimit="4" stroke-linecap="butt" clip-path="url(#cb)" />
<path d="M1140.0,2200.7 1159.0,2199.1 1179.6,2197.6 1192.0,2202.0 1203.4,2203.9 1216.1,2200.7 1231.9,2200.7 1243.0,2194.4 1254.1,2191.2 1266.8,2189.6 1274.7,2177.0 1285.8,2161.1 1293.7,2138.9 1298.5,2113.6 1306.4,2097.7 1314.3,2086.6 1322.3,2078.7 1330.0,2060.0 1336.5,2045.4" fill="none" stroke="#d2472a" stroke-width="4.0" stroke-linejoin="miter" stroke-miterlimit="4" stroke-linecap="butt" clip-path="url(#cb)" />
<path d="M1336.5,2045.4 1341.1,2066.7 1352.0,2110.0 1367.0,2142.6 1380.0,2110.0 1394.8,2088.9 1405.0,2085.0 1418.9,2092.6 1430.0,2140.0 1445.0,2190.0 1460.0,2211.0 1718.0,2211.0" fill="none" stroke="#d2472a" stroke-width="4.0" stroke-linejoin="miter" stroke-miterlimit="4" stroke-linecap="butt" clip-path="url(#cb)" />
<path d="M462.2,1480.0 461.2,1475.2" fill="none" stroke="#2e7d3f" stroke-width="4.0" stroke-linejoin="miter" stroke-miterlimit="4" stroke-linecap="butt" clip-path="url(#cb)" />
<path d="M441.0,1461.8 434.9,1477.8 415.9,1386.1 399.5,1392.5 382.3,1468.7 365.0,1483.6 347.8,1547.2 338.7,1605.3 331.4,1659.7 320.5,1760.0 309.6,1821.7 302.4,1903.4 296.9,1994.2 293.3,2040.0" fill="none" stroke="#2e7d3f" stroke-width="4.0" stroke-linejoin="miter" stroke-miterlimit="4" stroke-linecap="butt" clip-path="url(#cb)" />
<path d="M280.6,2159.8 287.8,2090.8 295.1,2036.3 296.9,2000.0" fill="none" stroke="#2e7d3f" stroke-width="4.0" stroke-linejoin="miter" stroke-miterlimit="4" stroke-linecap="butt" clip-path="url(#cb)" />
<path d="M440.0,1461.5 451.8,1432.4 456.3,1460.0 460.9,1480.0 467.2,1532.6 487.2,1545.3 502.6,1623.4 509.0,1677.9 512.6,1740.0 518.1,1776.3 523.5,1821.7 530.8,1867.1 538.1,1912.5 552.6,1945.2 570.7,1963.4 585.3,1994.2 589.9,2004.1" fill="none" stroke="#2e7d3f" stroke-width="4.0" stroke-linejoin="miter" stroke-miterlimit="4" stroke-linecap="butt" clip-path="url(#cb)" />
<path d="M614.0,2043.4 615.0,2045.0" fill="none" stroke="#2e7d3f" stroke-width="4.0" stroke-linejoin="miter" stroke-miterlimit="4" stroke-linecap="butt" clip-path="url(#cb)" />
<path d="M588.9,2000.0 603.4,2030.9 621.6,2045.4 632.5,2054.5 645.0,2075.0 657.9,2096.2 676.1,2105.3 694.2,2130.7 712.4,2147.1 740.0,2152.0" fill="none" stroke="#2e7d3f" stroke-width="4.0" stroke-linejoin="miter" stroke-miterlimit="4" stroke-linecap="butt" clip-path="url(#cb)" />
<path d="M740.0,2152.0 745.4,2145.4 770.8,2147.1 796.3,2152.2 815.0,2140.0 840.0,2110.0 870.0,2080.0 900.0,2060.0 901.0,2059.7" fill="none" stroke="#2e7d3f" stroke-width="4.0" stroke-linejoin="miter" stroke-miterlimit="4" stroke-linecap="butt" clip-path="url(#cb)" />
<path d="M968.0,2006.9 969.2,2006.4 979.3,2016.6 1000.0,2020.0" fill="none" stroke="#2e7d3f" stroke-width="4.0" stroke-linejoin="miter" stroke-miterlimit="4" stroke-linecap="butt" clip-path="url(#cb)" />
<path d="M900.0,2065.0 918.1,2056.0 936.3,2025.2 954.4,2014.3 969.0,2007.0" fill="none" stroke="#2e7d3f" stroke-width="4.0" stroke-linejoin="miter" stroke-miterlimit="4" stroke-linecap="butt" clip-path="url(#cb)" />
<path d="M955.0,2012.0 960.0,2010.6 969.3,2006.6 980.0,2020.0 995.0,2035.0 1015.0,2045.0 1035.0,2055.0 1053.2,2066.6 1066.5,2093.2 1086.5,2126.5 1106.5,2135.8 1125.0,2138.0 1141.0,2145.8" fill="none" stroke="#2e7d3f" stroke-width="4.0" stroke-linejoin="miter" stroke-miterlimit="4" stroke-linecap="butt" clip-path="url(#cb)" />
<path d="M1179.0,2136.1 1180.0,2135.8" fill="none" stroke="#2e7d3f" stroke-width="4.0" stroke-linejoin="miter" stroke-miterlimit="4" stroke-linecap="butt" clip-path="url(#cb)" />
<path d="M1140.0,2148.4 1155.0,2145.0 1171.7,2138.9 1192.3,2129.4 1209.7,2132.6 1222.4,2110.4 1235.1,2073.9 1247.8,2026.4 1254.1,1986.8 1260.4,1958.3 1270.0,1983.6 1285.0,2000.0 1298.5,2010.6 1311.2,2024.8 1323.8,2021.6 1340.0,2018.0" fill="none" stroke="#2e7d3f" stroke-width="4.0" stroke-linejoin="miter" stroke-miterlimit="4" stroke-linecap="butt" clip-path="url(#cb)" />
<path d="M1340.0,2018.0 1348.5,2020.4 1363.3,2127.8 1381.9,2133.3 1396.7,2040.7 1405.0,1950.0 1412.0,1900.0 1418.0,1990.0 1430.0,2100.0 1450.0,2180.0 1470.0,2211.0 1718.0,2211.0" fill="none" stroke="#2e7d3f" stroke-width="4.0" stroke-linejoin="miter" stroke-miterlimit="4" stroke-linecap="butt" clip-path="url(#cb)" />
<path d="M210.0,2210.0 220.7,2203.4 240.6,2201.6 260.0,2203.0 277.0,2199.7 295.1,2187.0 307.8,2163.4 318.7,2154.4 333.2,2136.2 340.5,2141.6 353.2,2147.1 364.1,2136.2 384.1,2136.2 396.8,2132.6 407.7,2136.2 418.6,2134.4 429.5,2125.3 441.0,2123.2" fill="none" stroke="#6f4ca1" stroke-width="4.0" stroke-linejoin="miter" stroke-miterlimit="4" stroke-linecap="butt" clip-path="url(#cb)" />
<path d="M467.0,2127.3 468.0,2127.0" fill="none" stroke="#6f4ca1" stroke-width="4.0" stroke-linejoin="miter" stroke-miterlimit="4" stroke-linecap="butt" clip-path="url(#cb)" />
<path d="M440.0,2125.3 450.9,2123.5 463.6,2130.7 474.5,2128.0 492.7,2135.3 505.4,2134.4 516.3,2128.0 527.2,2130.7 538.1,2139.8 559.8,2137.1 570.7,2128.9 590.7,2128.9 603.4,2135.3 616.1,2134.4 627.0,2145.3 639.7,2148.9 657.9,2161.6 672.4,2167.1 690.6,2174.3 699.7,2159.8 712.4,2159.8 730.5,2158.0 740.0,2160.0" fill="none" stroke="#6f4ca1" stroke-width="4.0" stroke-linejoin="miter" stroke-miterlimit="4" stroke-linecap="butt" clip-path="url(#cb)" />
<path d="M740.0,2160.0 759.0,2170.8 790.0,2168.0 814.9,2164.1 830.2,2140.3 842.0,2106.4 855.6,2089.5 861.0,2080.8" fill="none" stroke="#6f4ca1" stroke-width="4.0" stroke-linejoin="miter" stroke-miterlimit="4" stroke-linecap="butt" clip-path="url(#cb)" />
<path d="M971.6,2073.4 972.6,2073.7" fill="none" stroke="#6f4ca1" stroke-width="4.0" stroke-linejoin="miter" stroke-miterlimit="4" stroke-linecap="butt" clip-path="url(#cb)" />
<path d="M999.0,2068.2 1000.0,2068.0" fill="none" stroke="#6f4ca1" stroke-width="4.0" stroke-linejoin="miter" stroke-miterlimit="4" stroke-linecap="butt" clip-path="url(#cb)" />
<path d="M860.0,2075.0 878.2,2050.6 900.0,2048.0 918.1,2048.8 929.0,2061.5 943.5,2068.8 956.0,2069.8" fill="none" stroke="#6f4ca1" stroke-width="4.0" stroke-linejoin="miter" stroke-miterlimit="4" stroke-linecap="butt" clip-path="url(#cb)" />
<path d="M971.6,2075.6 972.6,2076.0" fill="none" stroke="#6f4ca1" stroke-width="4.0" stroke-linejoin="miter" stroke-miterlimit="4" stroke-linecap="butt" clip-path="url(#cb)" />
<path d="M955.0,2076.0 960.0,2075.9 974.6,2077.2 990.0,2068.0 1000.0,2062.0 1013.3,2057.2 1026.6,2054.6 1034.6,2054.6 1047.0,2063.0 1059.9,2071.9 1070.5,2073.2 1088.0,2082.0 1106.5,2090.5 1117.1,2097.2 1129.1,2101.2 1146.4,2113.2 1159.8,2118.5 1180.0,2121.0" fill="none" stroke="#6f4ca1" stroke-width="4.0" stroke-linejoin="miter" stroke-miterlimit="4" stroke-linecap="butt" clip-path="url(#cb)" />
<path d="M1159.0,2119.9 1184.4,2137.3 1205.0,2140.0 1225.6,2129.4 1236.0,2135.0 1247.8,2129.4 1260.4,2094.6 1270.0,2107.2 1281.0,2119.9 1292.1,2097.7 1303.2,2056.5 1313.0,2070.0 1323.8,2091.4 1334.9,2091.4 1340.0,2110.0" fill="none" stroke="#6f4ca1" stroke-width="4.0" stroke-linejoin="miter" stroke-miterlimit="4" stroke-linecap="butt" clip-path="url(#cb)" />
<path d="M1340.0,2110.0 1346.7,2159.3 1357.8,2133.3 1368.9,2157.4 1380.0,2140.0 1391.1,2122.2 1402.2,2122.2 1411.5,2190.7 1422.6,2166.7 1435.0,2195.0 1450.0,2211.0 1718.0,2211.0" fill="none" stroke="#6f4ca1" stroke-width="4.0" stroke-linejoin="miter" stroke-miterlimit="4" stroke-linecap="butt" clip-path="url(#cb)" />
<path d="M468.0,1743.3 449.5,1732.4 424.0,1728.8 413.1,1760.0 402.2,1794.5 385.9,1867.1 375.0,1907.1 358.7,1939.7 349.6,1976.1 340.5,2003.3 335.1,2040.0" fill="none" stroke="#ec2228" stroke-width="4.0" stroke-linejoin="miter" stroke-miterlimit="4" stroke-linecap="butt" clip-path="url(#cb)" />
<path d="M205.0,2212.0 209.8,2208.8 222.5,2199.7 240.6,2205.2 258.8,2205.2 277.0,2207.0 295.1,2196.1 309.6,2163.4 320.5,2127.1 331.4,2072.6 340.5,2018.2 344.1,2000.0" fill="none" stroke="#ec2228" stroke-width="4.0" stroke-linejoin="miter" stroke-miterlimit="4" stroke-linecap="butt" clip-path="url(#cb)" />
<path d="M468.0,1743.3 474.5,1749.1 483.6,1776.3 498.1,1812.6 509.0,1867.1 518.1,1903.4 527.2,1939.7 534.4,1976.1 541.7,2003.3 542.7,2010.4" fill="none" stroke="#ec2228" stroke-width="4.0" stroke-linejoin="miter" stroke-miterlimit="4" stroke-linecap="butt" clip-path="url(#cb)" />
<path d="M599.0,2044.4 600.0,2045.0" fill="none" stroke="#ec2228" stroke-width="4.0" stroke-linejoin="miter" stroke-miterlimit="4" stroke-linecap="butt" clip-path="url(#cb)" />
<path d="M541.7,2009.1 545.3,2027.2 567.1,2029.1 590.7,2038.1 612.5,2056.3 621.6,2063.6 630.7,2090.8 643.4,2123.5 667.0,2141.6 685.1,2145.3 712.4,2145.3 740.0,2150.0" fill="none" stroke="#ec2228" stroke-width="4.0" stroke-linejoin="miter" stroke-miterlimit="4" stroke-linecap="butt" clip-path="url(#cb)" />
<path d="M740.0,2150.0 764.1,2153.9 787.8,2169.2 809.8,2182.7 835.3,2169.2 845.4,2140.3 855.6,2114.9 861.0,2104.1" fill="none" stroke="#ec2228" stroke-width="4.0" stroke-linejoin="miter" stroke-miterlimit="4" stroke-linecap="butt" clip-path="url(#cb)" />
<path d="M967.0,2063.9 968.0,2064.7" fill="none" stroke="#ec2228" stroke-width="4.0" stroke-linejoin="miter" stroke-miterlimit="4" stroke-linecap="butt" clip-path="url(#cb)" />
<path d="M999.0,2061.9 1000.0,2062.0" fill="none" stroke="#ec2228" stroke-width="4.0" stroke-linejoin="miter" stroke-miterlimit="4" stroke-linecap="butt" clip-path="url(#cb)" />
<path d="M860.0,2085.0 883.6,2061.5 900.0,2060.0 919.9,2063.3 932.6,2068.8 954.4,2056.0 968.0,2065.0" fill="none" stroke="#ec2228" stroke-width="4.0" stroke-linejoin="miter" stroke-miterlimit="4" stroke-linecap="butt" clip-path="url(#cb)" />
<path d="M955.0,2057.0 960.0,2058.6 980.0,2066.6 993.0,2062.0 1006.6,2057.2 1019.9,2051.9 1029.2,2046.6 1040.0,2052.0 1053.2,2059.9 1066.0,2075.0 1079.9,2097.2 1093.2,2102.5 1106.5,2107.8 1120.0,2113.0 1139.8,2118.5 1141.0,2119.2" fill="none" stroke="#ec2228" stroke-width="4.0" stroke-linejoin="miter" stroke-miterlimit="4" stroke-linecap="butt" clip-path="url(#cb)" />
<path d="M1179.0,2153.0 1180.0,2153.0" fill="none" stroke="#ec2228" stroke-width="4.0" stroke-linejoin="miter" stroke-miterlimit="4" stroke-linecap="butt" clip-path="url(#cb)" />
<path d="M1140.0,2113.6 1152.7,2119.9 1171.7,2154.8 1192.3,2154.8 1206.6,2161.1 1219.2,2170.6 1228.7,2161.1 1241.4,2145.3 1249.4,2121.5 1260.0,2060.0 1270.0,2010.0 1282.6,1986.8 1292.0,1990.0 1301.6,2018.5 1315.9,2094.6 1323.8,2050.2 1331.8,1970.9" fill="none" stroke="#ec2228" stroke-width="4.0" stroke-linejoin="miter" stroke-miterlimit="4" stroke-linecap="butt" clip-path="url(#cb)" />
<path d="M1331.8,1970.9 1340.0,1965.0 1355.0,1960.0 1365.0,1965.0 1375.0,1970.0 1385.0,1990.0 1400.0,2030.0 1407.8,2059.3 1409.6,2151.9 1420.0,2185.0 1433.7,2211.1 1718.0,2211.0" fill="none" stroke="#ec2228" stroke-width="4.0" stroke-linejoin="miter" stroke-miterlimit="4" stroke-linecap="butt" clip-path="url(#cb)" />
<path d="M250.0,2210.0 277.0,2207.0 295.1,2181.6 309.6,2145.3 324.2,2089.0 340.5,2076.3 355.0,2059.9 371.4,2056.3 387.7,2034.5 404.1,2034.5 418.6,2039.9 440.0,2032.7" fill="none" stroke="#5a4440" stroke-width="4.0" stroke-linejoin="miter" stroke-miterlimit="4" stroke-linecap="butt" clip-path="url(#cb)" />
<path d="M440.0,2032.7 468.1,2017.3 501.7,2041.8 516.3,2043.6 532.6,2056.3 549.0,2078.1 567.1,2096.2 585.3,2105.3 603.4,2112.6 621.6,2119.8 639.7,2127.1 657.9,2139.8 676.1,2152.5 694.2,2156.2 708.8,2154.4 723.3,2158.0 740.0,2165.2" fill="none" stroke="#5a4440" stroke-width="4.0" stroke-linejoin="miter" stroke-miterlimit="4" stroke-linecap="butt" clip-path="url(#cb)" />
<path d="M740.0,2165.2 745.4,2167.5 770.8,2169.2 798.0,2170.8 814.9,2165.8 825.1,2159.0 838.6,2150.5 852.2,2150.5 864.1,2140.3 872.5,2131.9 889.5,2120.0 920.0,2108.1 935.3,2109.8 944.5,2100.6" fill="none" stroke="#5a4440" stroke-width="4.0" stroke-linejoin="miter" stroke-miterlimit="4" stroke-linecap="butt" clip-path="url(#cb)" />
<path d="M977.0,2068.1 977.6,2067.5 1000.0,2048.8" fill="none" stroke="#5a4440" stroke-width="4.0" stroke-linejoin="miter" stroke-miterlimit="4" stroke-linecap="butt" clip-path="url(#cb)" />
<path d="M943.5,2100.0 956.0,2083.5" fill="none" stroke="#5a4440" stroke-width="4.0" stroke-linejoin="miter" stroke-miterlimit="4" stroke-linecap="butt" clip-path="url(#cb)" />
<path d="M977.0,2060.7 978.0,2059.7" fill="none" stroke="#5a4440" stroke-width="4.0" stroke-linejoin="miter" stroke-miterlimit="4" stroke-linecap="butt" clip-path="url(#cb)" />
<path d="M955.0,2090.0 960.0,2086.5 970.7,2075.9 981.3,2065.2 994.6,2057.2 1006.6,2051.9 1018.6,2046.6 1034.6,2041.3 1046.6,2042.6 1062.0,2057.0 1079.9,2073.2 1093.2,2086.5 1106.5,2097.2 1119.8,2113.2 1133.1,2123.8 1141.0,2129.7" fill="none" stroke="#5a4440" stroke-width="4.0" stroke-linejoin="miter" stroke-miterlimit="4" stroke-linecap="butt" clip-path="url(#cb)" />
<path d="M1179.0,2134.1 1180.0,2134.0" fill="none" stroke="#5a4440" stroke-width="4.0" stroke-linejoin="miter" stroke-miterlimit="4" stroke-linecap="butt" clip-path="url(#cb)" />
<path d="M1140.0,2129.4 1159.0,2131.0 1176.5,2138.9 1192.3,2145.3 1208.1,2150.0 1222.4,2153.2 1239.8,2157.9 1250.9,2145.3 1263.6,2129.4 1274.7,2116.7 1282.6,2089.8 1290.6,2054.9 1304.8,2039.1 1322.3,2037.5 1340.0,2036.0" fill="none" stroke="#5a4440" stroke-width="4.0" stroke-linejoin="miter" stroke-miterlimit="4" stroke-linecap="butt" clip-path="url(#cb)" />
<path d="M1340.0,2036.0 1368.9,2035.2 1385.6,1996.3 1395.0,2030.0 1410.0,2060.0 1422.6,2077.8 1450.0,2130.0 1475.0,2180.0 1489.3,2207.4 1718.0,2211.0" fill="none" stroke="#5a4440" stroke-width="4.0" stroke-linejoin="miter" stroke-miterlimit="4" stroke-linecap="butt" clip-path="url(#cb)" />
<path d="M468.0,1827.0 467.0,1827.0" fill="none" stroke="#b2b2b2" stroke-width="4.0" stroke-linejoin="miter" stroke-miterlimit="4" stroke-linecap="butt" clip-path="url(#cb)" />
<path d="M441.0,1818.7 434.9,1805.4 424.0,1801.7 413.1,1858.0 404.1,1878.0 395.0,1870.7 385.9,1892.5 367.7,1939.7 356.9,1976.1 347.8,2003.3 344.1,2040.0" fill="none" stroke="#b2b2b2" stroke-width="4.0" stroke-linejoin="miter" stroke-miterlimit="4" stroke-linecap="butt" clip-path="url(#cb)" />
<path d="M260.0,2210.0 298.7,2208.8 309.6,2190.7 315.1,2145.3 336.9,2090.8 344.1,2040.0" fill="none" stroke="#b2b2b2" stroke-width="4.0" stroke-linejoin="miter" stroke-miterlimit="4" stroke-linecap="butt" clip-path="url(#cb)" />
<path d="M440.0,1821.7 452.7,1827.2 472.7,1829.0 478.1,1836.2 492.7,1863.5 505.0,1880.0 516.3,1903.4 525.3,1930.7 534.4,1948.8 541.7,1967.0 552.6,1977.9 567.1,1965.2 579.8,1961.5 585.3,1994.2 586.3,1999.3" fill="none" stroke="#b2b2b2" stroke-width="4.0" stroke-linejoin="miter" stroke-miterlimit="4" stroke-linecap="butt" clip-path="url(#cb)" />
<path d="M595.0,2036.5 596.0,2040.0" fill="none" stroke="#b2b2b2" stroke-width="4.0" stroke-linejoin="miter" stroke-miterlimit="4" stroke-linecap="butt" clip-path="url(#cb)" />
<path d="M585.3,2000.0 590.7,2027.2 598.0,2050.8 603.4,2072.6 610.7,2087.2 621.6,2109.0 630.7,2119.8 639.7,2119.8 647.0,2138.0 657.9,2156.2 668.8,2154.4 687.0,2159.8 694.2,2145.3 705.1,2119.8 712.4,2130.7 723.3,2148.9 740.0,2154.0" fill="none" stroke="#b2b2b2" stroke-width="4.0" stroke-linejoin="miter" stroke-miterlimit="4" stroke-linecap="butt" clip-path="url(#cb)" />
<path d="M740.0,2154.0 753.9,2181.0 770.8,2162.4 782.7,2174.2 794.6,2162.4 814.9,2164.1 835.3,2165.8 853.9,2153.9 865.8,2128.5 878.0,2085.0 890.0,2050.0 906.4,2025.1 918.3,2020.0 921.0,2019.1" fill="none" stroke="#b2b2b2" stroke-width="4.0" stroke-linejoin="miter" stroke-miterlimit="4" stroke-linecap="butt" clip-path="url(#cb)" />
<path d="M968.0,2035.1 969.0,2034.8" fill="none" stroke="#b2b2b2" stroke-width="4.0" stroke-linejoin="miter" stroke-miterlimit="4" stroke-linecap="butt" clip-path="url(#cb)" />
<path d="M999.0,2034.7 1000.0,2035.0" fill="none" stroke="#b2b2b2" stroke-width="4.0" stroke-linejoin="miter" stroke-miterlimit="4" stroke-linecap="butt" clip-path="url(#cb)" />
<path d="M920.0,2015.0 936.3,2012.5 955.0,2025.0 969.0,2036.1" fill="none" stroke="#b2b2b2" stroke-width="4.0" stroke-linejoin="miter" stroke-miterlimit="4" stroke-linecap="butt" clip-path="url(#cb)" />
<path d="M955.0,2030.0 960.0,2031.9 973.3,2034.6 988.0,2030.0 1003.9,2031.9 1015.9,2046.6 1026.6,2037.3 1038.0,2045.0 1050.6,2054.6 1061.2,2073.2 1069.2,2093.2 1079.9,2103.9 1089.2,2099.9 1101.2,2095.9 1110.0,2100.0 1119.8,2119.8 1133.1,2146.5 1141.0,2157.8" fill="none" stroke="#b2b2b2" stroke-width="4.0" stroke-linejoin="miter" stroke-miterlimit="4" stroke-linecap="butt" clip-path="url(#cb)" />
<path d="M1179.0,2160.0 1180.0,2160.0" fill="none" stroke="#b2b2b2" stroke-width="4.0" stroke-linejoin="miter" stroke-miterlimit="4" stroke-linecap="butt" clip-path="url(#cb)" />
<path d="M1140.0,2153.2 1151.1,2169.0 1171.7,2161.1 1195.5,2161.1 1206.6,2169.0 1219.2,2170.6 1228.7,2164.3 1235.1,2145.3 1243.0,2121.5 1250.9,2081.9 1260.0,2030.0 1271.5,1991.5 1285.8,1986.8 1295.0,1930.0 1303.2,1867.9 1313.0,1895.0 1323.8,1923.4 1332.0,1890.0 1338.0,1860.0" fill="none" stroke="#b2b2b2" stroke-width="4.0" stroke-linejoin="miter" stroke-miterlimit="4" stroke-linecap="butt" clip-path="url(#cb)" />
<path d="M1338.0,1860.0 1345.0,1860.0 1360.0,1900.0 1375.0,1920.0 1390.0,1880.0 1402.3,1745.1 1410.0,1800.0 1417.0,1855.6 1426.3,1911.1 1450.0,2050.0 1478.1,2198.1 1490.0,2211.0 1718.0,2211.0" fill="none" stroke="#b2b2b2" stroke-width="4.0" stroke-linejoin="miter" stroke-miterlimit="4" stroke-linecap="butt" clip-path="url(#cb)" />
<path d="M261.5,1170.0 264.2,1307.1 281.5,1377.9 285.1,1170.0" fill="none" stroke="#f58634" stroke-width="4.0" stroke-linejoin="miter" stroke-miterlimit="4" stroke-linecap="butt" clip-path="url(#cb)" />
<path d="M400.4,1170.0 405.9,1460.0 411.3,1672.5 422.2,1663.4 431.3,1696.1 436.7,1760.0 440.4,1794.5 441.0,1805.7" fill="none" stroke="#f58634" stroke-width="4.0" stroke-linejoin="miter" stroke-miterlimit="4" stroke-linecap="butt" clip-path="url(#cb)" />
<path d="M467.0,1867.6 468.0,1870.7" fill="none" stroke="#f58634" stroke-width="4.0" stroke-linejoin="miter" stroke-miterlimit="4" stroke-linecap="butt" clip-path="url(#cb)" />
<path d="M440.0,1812.6 443.6,1859.8 461.8,1847.1 476.3,1890.7 489.0,1939.7 494.5,1967.0 509.0,2003.3 516.3,2040.0" fill="none" stroke="#f58634" stroke-width="4.0" stroke-linejoin="miter" stroke-miterlimit="4" stroke-linecap="butt" clip-path="url(#cb)" />
<path d="M509.0,2000.0 516.3,2036.3 525.3,2074.5 541.7,2067.2 558.0,2109.0 576.2,2114.4 603.4,2107.1 621.6,2101.7 639.7,2100.8 656.1,2099.0 676.1,2130.7 688.8,2154.4 706.9,2145.3 721.5,2094.4 734.2,2127.1 740.0,2140.0" fill="none" stroke="#f58634" stroke-width="4.0" stroke-linejoin="miter" stroke-miterlimit="4" stroke-linecap="butt" clip-path="url(#cb)" />
<path d="M740.0,2140.0 753.9,2143.7 774.2,2148.8 798.0,2147.1 815.0,2145.0 831.9,2140.3 848.8,2126.8 861.0,2117.3" fill="none" stroke="#f58634" stroke-width="4.0" stroke-linejoin="miter" stroke-miterlimit="4" stroke-linecap="butt" clip-path="url(#cb)" />
<path d="M966.1,2027.0 967.1,2026.8" fill="none" stroke="#f58634" stroke-width="4.0" stroke-linejoin="miter" stroke-miterlimit="4" stroke-linecap="butt" clip-path="url(#cb)" />
<path d="M999.0,2068.1 1000.0,2068.0" fill="none" stroke="#f58634" stroke-width="4.0" stroke-linejoin="miter" stroke-miterlimit="4" stroke-linecap="butt" clip-path="url(#cb)" />
<path d="M860.0,2110.0 878.2,2090.5 895.0,2050.0 914.5,2021.5 932.6,2019.7 950.8,2027.0 967.1,2028.8" fill="none" stroke="#f58634" stroke-width="4.0" stroke-linejoin="miter" stroke-miterlimit="4" stroke-linecap="butt" clip-path="url(#cb)" />
<path d="M955.0,2028.0 960.0,2027.9 968.0,2027.9 974.0,2045.0 981.3,2066.6 993.3,2067.9 1006.6,2067.9 1017.3,2067.9 1026.6,2051.9 1034.6,2049.2 1046.6,2062.6 1061.2,2083.9 1073.2,2099.9 1083.9,2113.2 1099.8,2111.8 1115.0,2113.0 1129.1,2117.2 1146.4,2123.8 1157.0,2120.0 1161.6,2121.6" fill="none" stroke="#f58634" stroke-width="4.0" stroke-linejoin="miter" stroke-miterlimit="4" stroke-linecap="butt" clip-path="url(#cb)" />
<path d="M1179.0,2140.0 1180.0,2140.0" fill="none" stroke="#f58634" stroke-width="4.0" stroke-linejoin="miter" stroke-miterlimit="4" stroke-linecap="butt" clip-path="url(#cb)" />
<path d="M1160.6,2121.5 1179.6,2140.5 1193.9,2132.6 1212.9,2138.9 1228.7,2126.2 1243.0,2107.2 1253.0,2075.0 1263.6,2034.3 1270.0,2002.6 1278.0,2015.0 1285.8,2002.6 1292.1,1986.8 1302.0,1995.0 1312.7,2010.6 1322.3,2042.2 1330.2,2058.1 1340.0,2066.0" fill="none" stroke="#f58634" stroke-width="4.0" stroke-linejoin="miter" stroke-miterlimit="4" stroke-linecap="butt" clip-path="url(#cb)" />
<path d="M1340.0,2066.0 1350.0,2100.0 1359.6,2131.5 1370.0,2090.0 1387.4,2000.0 1400.0,2040.0 1410.0,2070.0 1422.6,2087.0 1440.0,2150.0 1455.9,2209.3 1480.0,2211.0 1491.0,2211.2 1493.0,2000.0 1495.7,1580.0 1497.5,1180.0 1505.0,1100.0 1518.0,1180.0 1525.0,1580.0 1537.7,1998.9 1553.3,1928.1 1571.1,1921.1 1587.3,2069.7 1604.3,2014.5 1619.8,2064.0 1636.8,2089.5 1653.8,2112.1 1684.9,1783.8 1700.5,2208.4 1716.0,2209.8" fill="none" stroke="#f58634" stroke-width="4.0" stroke-linejoin="miter" stroke-miterlimit="4" stroke-linecap="butt" clip-path="url(#cb)" />
<path d="M468.0,1769.0 467.0,1767.5" fill="none" stroke="#e8e83a" stroke-width="4.0" stroke-linejoin="miter" stroke-miterlimit="4" stroke-linecap="butt" clip-path="url(#cb)" />
<path d="M441.0,1764.2 440.4,1765.4 429.5,1798.1 418.6,1849.0 404.1,1912.5 395.0,1948.8 382.3,1985.1 367.7,2012.4 356.9,2040.0" fill="none" stroke="#e8e83a" stroke-width="4.0" stroke-linejoin="miter" stroke-miterlimit="4" stroke-linecap="butt" clip-path="url(#cb)" />
<path d="M224.3,2196.1 237.0,2196.1 247.9,2199.7 255.2,2208.8 306.0,2208.8 315.1,2199.7 326.0,2163.4 336.9,2127.1 342.3,2090.8 353.2,2045.4 356.9,2040.0" fill="none" stroke="#e8e83a" stroke-width="4.0" stroke-linejoin="miter" stroke-miterlimit="4" stroke-linecap="butt" clip-path="url(#cb)" />
<path d="M440.0,1765.4 451.8,1743.6 461.8,1765.4 474.5,1785.4 487.2,1798.1 507.2,1780.0 518.1,1780.0 527.2,1841.7 538.1,1888.9 549.0,1881.6 570.7,1803.6 581.6,1845.3 592.5,1832.6 614.3,1910.7 625.2,1859.8 643.4,1936.1 656.1,1968.8 667.0,1972.4 676.1,2012.4 677.1,2014.1" fill="none" stroke="#e8e83a" stroke-width="4.0" stroke-linejoin="miter" stroke-miterlimit="4" stroke-linecap="butt" clip-path="url(#cb)" />
<path d="M700.5,2039.3 701.5,2040.0" fill="none" stroke="#e8e83a" stroke-width="4.0" stroke-linejoin="miter" stroke-miterlimit="4" stroke-linecap="butt" clip-path="url(#cb)" />
<path d="M676.1,2000.0 685.1,2027.2 697.9,2036.3 708.8,2058.1 719.6,2070.8 730.5,2058.1 740.0,2060.0" fill="none" stroke="#e8e83a" stroke-width="4.0" stroke-linejoin="miter" stroke-miterlimit="4" stroke-linecap="butt" clip-path="url(#cb)" />
<path d="M740.0,2060.0 720.0,2069.2 731.9,2057.3 745.4,2064.1 764.1,2099.7 775.9,2096.3 790.0,2112.0 799.7,2121.7 814.9,2123.4 825.1,2131.9 835.3,2123.4 847.1,2094.6 855.0,2060.0 861.0,2031.7" fill="none" stroke="#e8e83a" stroke-width="4.0" stroke-linejoin="miter" stroke-miterlimit="4" stroke-linecap="butt" clip-path="url(#cb)" />
<path d="M880.0,1921.8 881.0,1920.0" fill="none" stroke="#e8e83a" stroke-width="4.0" stroke-linejoin="miter" stroke-miterlimit="4" stroke-linecap="butt" clip-path="url(#cb)" />
<path d="M860.0,2041.5 870.9,1941.6 882.7,1914.4 893.6,1925.3 903.6,1907.1 916.3,1910.8 927.2,1919.8 947.2,1932.6 958.1,1934.4 969.0,1909.0 987.1,1890.8 1001.6,1870.8 1012.5,1869.0 1023.4,1852.7 1034.3,1825.4 1045.2,1800.0 1055.0,1782.0 1062.0,1778.0 1074.3,1800.0 1087.0,1832.7 1101.5,1854.5 1110.6,1870.8 1117.9,1927.1 1130.6,1963.4 1138.1,1984.7" fill="none" stroke="#e8e83a" stroke-width="4.0" stroke-linejoin="miter" stroke-miterlimit="4" stroke-linecap="butt" clip-path="url(#cb)" />
<path d="M1159.0,1998.9 1160.0,1998.0" fill="none" stroke="#e8e83a" stroke-width="4.0" stroke-linejoin="miter" stroke-miterlimit="4" stroke-linecap="butt" clip-path="url(#cb)" />
<path d="M1137.1,1980.0 1141.0,1993.0" fill="none" stroke="#e8e83a" stroke-width="4.0" stroke-linejoin="miter" stroke-miterlimit="4" stroke-linecap="butt" clip-path="url(#cb)" />
<path d="M1171.0,1980.8 1172.0,1980.0" fill="none" stroke="#e8e83a" stroke-width="4.0" stroke-linejoin="miter" stroke-miterlimit="4" stroke-linecap="butt" clip-path="url(#cb)" />
<path d="M1140.0,1986.8 1152.7,2002.6 1174.9,1974.1 1186.0,1993.1 1203.4,1986.8 1217.7,1994.7 1227.2,1974.1 1231.0,1930.0 1235.1,1860.0" fill="none" stroke="#e8e83a" stroke-width="4.0" stroke-linejoin="miter" stroke-miterlimit="4" stroke-linecap="butt" clip-path="url(#cb)" />
<path d="M1235.1,1860.0 1237.1,1880.0 1248.5,1802.0 1259.9,1641.2 1269.8,1671.1 1281.2,1829.1 1292.6,1802.0 1303.3,1608.4 1312.6,1681.0 1324.7,1729.4 1336.0,1642.6 1345.3,1802.0 1356.7,1766.5 1368.1,1659.7 1373.8,1560.0 1377.4,1441.6 1390.7,1445.1 1395.2,1580.0 1398.0,1716.6 1403.7,1752.2 1412.0,1745.0 1422.2,1733.7 1440.0,1880.0 1460.0,2040.0 1475.0,2150.0 1484.0,2211.0 1718.0,2211.0" fill="none" stroke="#e8e83a" stroke-width="4.0" stroke-linejoin="miter" stroke-miterlimit="4" stroke-linecap="butt" clip-path="url(#cb)" />
<path d="M338.7,1760.0 341.5,1740.0 344.1,1725.0 346.0,1700.0 350.0,1680.0 356.9,1645.0 362.0,1660.0 367.7,1680.0 375.0,1665.0 385.0,1690.0 402.2,1680.0 409.0,1700.0 416.8,1670.0 425.0,1690.0 429.5,1660.0 436.0,1690.0 444.0,1665.0 451.3,1670.0 458.5,1700.0" fill="none" stroke="#231f20" stroke-width="8" stroke-linejoin="miter" stroke-miterlimit="4" stroke-linecap="butt" clip-path="url(#cb)" stroke-dasharray="42 14 10 14"/>
<path d="M338.7,1743.6 338.0,1782.0 336.9,1801.7 334.0,1840.0 332.3,1858.0 329.0,1898.0 326.9,1916.1 324.0,1939.7 320.5,1945.2 313.3,1965.2 306.0,1990.0 302.4,2000.0 298.7,2023.6 291.5,2036.3 280.6,2058.0 270.6,2029.0 267.0,2061.7 257.0,2080.0 246.0,2081.7 228.0,2083.5 218.8,2080.0" fill="none" stroke="#231f20" stroke-width="8" stroke-linejoin="miter" stroke-miterlimit="4" stroke-linecap="butt" clip-path="url(#cb)" stroke-dasharray="42 14 10 14"/>
<path d="M458.5,1700.0 467.2,1697.9 476.3,1732.4 477.2,1754.5 478.0,1784.0 485.0,1830.0 490.0,1860.0 498.0,1867.0 506.0,1880.0 516.0,1885.0 520.0,1903.0 527.0,1925.0 535.0,1945.0 541.7,1960.0 548.0,1978.0 556.0,1993.0 565.0,2005.0 570.7,2018.0" fill="none" stroke="#231f20" stroke-width="8" stroke-linejoin="miter" stroke-miterlimit="4" stroke-linecap="butt" clip-path="url(#cb)" stroke-dasharray="42 14 10 14"/>
<path d="M570.7,2018.0 581.6,2041.8 592.5,2058.1 599.8,2070.8 607.1,2076.3 621.6,2067.2 632.5,2054.5 641.6,2047.2 648.8,2058.1 659.7,2059.9 672.4,2070.8 685.1,2061.7 692.4,2081.7 703.3,2074.5 712.4,2081.7 723.3,2083.5 740.0,2082.0" fill="none" stroke="#231f20" stroke-width="8" stroke-linejoin="miter" stroke-miterlimit="4" stroke-linecap="butt" clip-path="url(#cb)" stroke-dasharray="42 14 10 14"/>
<path d="M740.0,2082.0 745.4,2081.0 758.0,2084.0 770.8,2072.5 784.4,2086.1 799.7,2101.4 809.8,2099.7 821.7,2092.9 830.0,2090.0 838.6,2072.5 848.8,2055.6 855.6,2031.9 870.0,2025.0 889.5,2013.2 900.0,2015.0 913.2,2020.0 916.6,1984.4 923.4,1974.2 926.8,1947.1 935.0,1935.0 940.0,1960.0 947.1,1967.5 955.0,1950.0 965.8,1936.9 970.8,1960.7 983.0,1975.0 994.6,1987.8" fill="none" stroke="#231f20" stroke-width="8" stroke-linejoin="miter" stroke-miterlimit="4" stroke-linecap="butt" clip-path="url(#cb)" stroke-dasharray="42 14 10 14"/>
<path d="M955.0,1962.0 965.0,1955.0 975.0,1965.0 985.0,1975.0 993.3,1980.0 1000.0,2010.6 1006.0,2015.0 1013.3,1993.3 1017.3,2033.3 1021.3,2013.3 1031.9,2024.0 1040.0,2032.0 1046.6,2039.9 1053.2,2046.6 1063.9,2026.6 1069.2,2033.3 1076.0,2055.0 1083.9,2075.9 1093.2,2081.2 1103.8,2085.2 1113.0,2086.0 1123.8,2082.5 1137.1,2091.9 1141.0,2089.8" fill="none" stroke="#231f20" stroke-width="8" stroke-linejoin="miter" stroke-miterlimit="4" stroke-linecap="butt" clip-path="url(#cb)" stroke-dasharray="42 14 10 14"/>
<path d="M1174.0,2081.6 1175.0,2082.0" fill="none" stroke="#231f20" stroke-width="8" stroke-linejoin="miter" stroke-miterlimit="4" stroke-linecap="butt" clip-path="url(#cb)" stroke-dasharray="42 14 10 14"/>
<path d="M1140.0,2086.6 1163.8,2074.0 1184.4,2059.7 1192.3,2070.8 1200.2,2077.1 1209.7,2081.9 1220.8,2062.9 1231.9,2050.2 1238.3,2042.2 1250.9,2034.3 1260.4,2007.4 1265.2,1978.9 1272.0,2005.0 1279.5,2034.3 1285.8,2053.3 1292.1,2050.2 1298.5,2026.4 1301.6,2002.6 1306.4,1983.6 1314.3,1991.5" fill="none" stroke="#231f20" stroke-width="8" stroke-linejoin="miter" stroke-miterlimit="4" stroke-linecap="butt" clip-path="url(#cb)" stroke-dasharray="42 14 10 14"/>
<path d="M1314.3,1991.5 1325.0,1975.0 1335.0,1965.0 1345.0,1950.0 1352.0,1930.0 1360.0,1935.0 1368.0,1915.0 1375.0,1920.0 1382.0,1945.0 1388.0,1970.0 1395.0,1960.0 1400.0,1930.0 1405.0,1900.0" fill="none" stroke="#231f20" stroke-width="8" stroke-linejoin="miter" stroke-miterlimit="4" stroke-linecap="butt" clip-path="url(#cb)" stroke-dasharray="42 14 10 14"/>
<path d="M1420.0,1960.0 1420.0,2060.0 1422.0,2080.0 1428.0,2150.0 1435.0,2205.0 1445.0,2209.0" fill="none" stroke="#231f20" stroke-width="8" stroke-linejoin="miter" stroke-miterlimit="4" stroke-linecap="butt" clip-path="url(#cb)" stroke-dasharray="42 14 10 14"/>
<path d="M318.7,2030.5 319.7,2027.7" fill="none" stroke="#231f20" stroke-width="8" stroke-linejoin="miter" stroke-miterlimit="4" stroke-linecap="butt" clip-path="url(#cb)" stroke-dasharray="9 5"/>
<path d="M334.1,2007.0 335.1,2006.0 338.7,1992.4 342.3,1977.9 345.0,1963.4 355.9,1948.8 358.7,1935.2 360.5,1921.6 362.3,1905.2 365.9,1890.7 371.4,1908.9 375.0,1921.6 385.9,1908.9 391.4,1892.5 398.6,1903.4 402.2,1918.9 407.7,1932.5 415.0,1947.0 418.0,1950.0 422.2,1930.7 424.0,1916.1 431.3,1908.9 440.4,1903.4 441.0,1903.0" fill="none" stroke="#231f20" stroke-width="8" stroke-linejoin="miter" stroke-miterlimit="4" stroke-linecap="butt" clip-path="url(#cb)" stroke-dasharray="9 5"/>
<path d="M459.3,1897.1 460.3,1899.8" fill="none" stroke="#231f20" stroke-width="8" stroke-linejoin="miter" stroke-miterlimit="4" stroke-linecap="butt" clip-path="url(#cb)" stroke-dasharray="9 5"/>
<path d="M335.1,2006.0 335.1,2007.3 324.2,2018.2 318.7,2030.9 315.1,2045.4 310.5,2059.9 308.7,2074.5 305.1,2089.0 300.6,2110.8 295.1,2098.1 288.8,2109.0 279.7,2123.5 272.4,2138.0 266.1,2145.3 257.0,2158.0 249.7,2152.5 245.2,2138.0 241.5,2123.5 238.8,2109.0 235.2,2094.4 224.3,2092.6 218.8,2079.9" fill="none" stroke="#231f20" stroke-width="8" stroke-linejoin="miter" stroke-miterlimit="4" stroke-linecap="butt" clip-path="url(#cb)" stroke-dasharray="9 5"/>
<path d="M440.0,1903.4 445.4,1899.8 452.7,1885.3 458.2,1898.0 467.2,1899.8 473.6,1887.1 492.7,1892.5 494.5,1907.1 496.3,1921.6 498.1,1936.1 503.6,1950.6 510.8,1963.4 519.9,1970.6 527.2,1967.0 529.0,1981.5 534.4,1994.2 539.9,2006.9 552.6,2019.6 558.0,2034.2" fill="none" stroke="#231f20" stroke-width="8" stroke-linejoin="miter" stroke-miterlimit="4" stroke-linecap="butt" clip-path="url(#cb)" stroke-dasharray="9 5"/>
<path d="M558.0,2034.2 567.1,2047.2 578.0,2056.3 592.0,2065.0 607.1,2074.5 619.8,2067.2 632.0,2058.0 645.0,2052.0 667.0,2047.2 676.1,2052.7 690.0,2065.0 703.0,2072.0 716.0,2078.0 730.0,2082.0" fill="none" stroke="#231f20" stroke-width="8" stroke-linejoin="miter" stroke-miterlimit="4" stroke-linecap="butt" clip-path="url(#cb)" stroke-dasharray="9 5"/>
<path d="M730.0,2082.0 736.9,2067.5 750.5,2065.8 760.7,2060.7 770.0,2072.0 781.0,2079.3 791.2,2072.5 799.7,2057.3 804.7,2069.2 813.2,2075.9 826.8,2079.3 838.0,2068.0 850.5,2050.5 853.9,2028.5 857.3,2013.2 867.5,2016.6 878.0,2018.0 889.5,2009.8 900.0,2008.0 911.5,2011.5 923.4,1982.7 936.9,1984.4 950.5,1986.1 953.9,1972.5 956.0,1972.7" fill="none" stroke="#231f20" stroke-width="8" stroke-linejoin="miter" stroke-miterlimit="4" stroke-linecap="butt" clip-path="url(#cb)" stroke-dasharray="9 5"/>
<path d="M976.6,1975.7 977.6,1975.9" fill="none" stroke="#231f20" stroke-width="8" stroke-linejoin="miter" stroke-miterlimit="4" stroke-linecap="butt" clip-path="url(#cb)" stroke-dasharray="9 5"/>
<path d="M955.0,1975.0 965.0,1972.0 977.6,1975.9 985.0,1972.0 993.0,1985.0 1005.0,2000.0 1019.8,2012.5 1031.9,2024.0 1046.6,2039.9 1060.0,2036.0 1069.2,2033.3 1080.0,2060.0 1093.2,2079.0 1108.0,2083.0 1123.8,2082.5 1137.1,2088.0 1150.0,2085.0 1150.5,2084.7" fill="none" stroke="#231f20" stroke-width="8" stroke-linejoin="miter" stroke-miterlimit="4" stroke-linecap="butt" clip-path="url(#cb)" stroke-dasharray="9 5"/>
<path d="M1174.0,2079.8 1175.0,2080.0" fill="none" stroke="#231f20" stroke-width="8" stroke-linejoin="miter" stroke-miterlimit="4" stroke-linecap="butt" clip-path="url(#cb)" stroke-dasharray="9 5"/>
<path d="M1149.5,2080.3 1162.0,2075.0 1176.5,2081.9 1187.5,2088.2 1198.6,2088.2 1212.9,2081.9 1222.4,2075.5 1232.0,2055.0 1245.0,2045.0 1255.0,2030.0 1262.0,2002.6 1262.0,1951.9 1263.6,1907.5 1264.5,1820.0 1266.5,1740.0 1270.5,1672.5 1272.7,1688.0 1274.0,1760.0 1274.7,1860.0" fill="none" stroke="#231f20" stroke-width="8" stroke-linejoin="miter" stroke-miterlimit="4" stroke-linecap="butt" clip-path="url(#cb)" stroke-dasharray="9 5"/>
<path d="M1274.7,1860.0 1276.3,1907.5 1277.9,1955.1 1279.5,1983.6 1285.8,1996.3 1295.0,2000.0" fill="none" stroke="#231f20" stroke-width="8" stroke-linejoin="miter" stroke-miterlimit="4" stroke-linecap="butt" clip-path="url(#cb)" stroke-dasharray="9 5"/>
<path d="M1295.0,2000.0 1305.0,1990.0 1315.0,1985.0 1325.0,1970.0 1335.0,1945.0 1345.0,1925.0 1350.0,1915.0 1358.0,1925.0 1364.0,1905.0 1370.0,1895.0 1377.0,1880.0 1380.0,1860.0 1383.0,1800.0 1385.0,1700.0 1387.0,1530.0 1389.0,1700.0 1392.0,1800.0 1395.0,1880.0 1405.0,1930.0 1412.0,2000.0 1414.0,2060.0 1416.0,2120.0 1418.0,2150.0 1420.0,2170.0 1425.0,2200.0 1440.0,2209.0" fill="none" stroke="#231f20" stroke-width="8" stroke-linejoin="miter" stroke-miterlimit="4" stroke-linecap="butt" clip-path="url(#cb)" stroke-dasharray="9 5"/>
<path d="M1340.0,1944.0 1341.0,1920.0 1348.0,1897.0 1351.0,1884.0 1357.0,1893.0 1362.0,1906.0 1370.0,1913.0 1379.0,1923.0 1383.0,1935.0" fill="none" stroke="#231f20" stroke-width="8" stroke-linejoin="miter" stroke-miterlimit="4" stroke-linecap="butt" clip-path="url(#cb)" stroke-dasharray="9 5"/>
<path d="M1405.0,1900.0 1410.0,1700.0 1413.0,1556.0 1415.0,1700.0 1416.0,1800.0 1418.0,1900.0 1420.0,1960.0" fill="none" stroke="#231f20" stroke-width="8" stroke-linejoin="miter" stroke-miterlimit="4" stroke-linecap="butt" clip-path="url(#cb)" />
<path d="M1297.8,1971.3 1308.1,1966.1 1314.2,1971.3 1321.5,1982.6" fill="none" stroke="#231f20" stroke-width="8" stroke-linejoin="miter" stroke-miterlimit="4" stroke-linecap="butt" clip-path="url(#cb)" />
<path d="M1282.3,1997.0 1327.6,1999.0" fill="none" stroke="#231f20" stroke-width="8" stroke-linejoin="miter" stroke-miterlimit="4" stroke-linecap="butt" clip-path="url(#cb)" />
<path d="M1296.0,1993.0 1298.0,2025.0" fill="none" stroke="#231f20" stroke-width="8" stroke-linejoin="miter" stroke-miterlimit="4" stroke-linecap="butt" clip-path="url(#cb)" />
<path d="M1337.0,1949.0 1345.0,1965.0 1351.0,1985.0" fill="none" stroke="#231f20" stroke-width="8" stroke-linejoin="miter" stroke-miterlimit="4" stroke-linecap="butt" clip-path="url(#cb)" />
<path d="M1358.5,1959.0 1366.7,1997.0" fill="none" stroke="#231f20" stroke-width="8" stroke-linejoin="miter" stroke-miterlimit="4" stroke-linecap="butt" clip-path="url(#cb)" />
<path d="M1372.9,1968.0 1383.2,1995.0" fill="none" stroke="#231f20" stroke-width="8" stroke-linejoin="miter" stroke-miterlimit="4" stroke-linecap="butt" clip-path="url(#cb)" />
<path d="M1345.0,1908.0 1352.0,1920.0 1358.0,1935.0 1366.0,1938.0" fill="none" stroke="#231f20" stroke-width="8" stroke-linejoin="miter" stroke-miterlimit="4" stroke-linecap="butt" clip-path="url(#cb)" />
<path d="M1389.0,1846.0 1392.0,1890.0 1395.0,1938.0" fill="none" stroke="#231f20" stroke-width="8" stroke-linejoin="miter" stroke-miterlimit="4" stroke-linecap="butt" clip-path="url(#cb)" />
<path d="M1404.0,1820.0 1406.0,1900.0 1410.0,1960.0 1414.0,2030.0" fill="none" stroke="#231f20" stroke-width="8" stroke-linejoin="miter" stroke-miterlimit="4" stroke-linecap="butt" clip-path="url(#cb)" />
<path d="M169.7,1059.8V26.3H1721.5V1059.8" fill="none" stroke="#231f20" stroke-width="5"/>
<path d="M158,1059.8H1724" fill="none" stroke="#231f20" stroke-width="4.4"/>
<path d="M168.6,2212.6V1178.9H1719.7V2212.6" fill="none" stroke="#231f20" stroke-width="5"/>
<path d="M157,2212.4H1722" fill="none" stroke="#231f20" stroke-width="4.6"/>
<path d="M158.2,1059.8H168M163.0,1034.0H168M163.0,1008.1H168M163.0,982.3H168M163.0,956.5H168M158.2,930.6H168M163.0,904.8H168M163.0,878.9H168M163.0,853.1H168M163.0,827.3H168M158.2,801.4H168M163.0,775.6H168M163.0,749.8H168M163.0,723.9H168M163.0,698.1H168M158.2,672.3H168M163.0,646.4H168M163.0,620.6H168M163.0,594.8H168M163.0,568.9H168M158.2,543.1H168M163.0,517.2H168M163.0,491.4H168M163.0,465.6H168M163.0,439.7H168M158.2,413.9H168M163.0,388.1H168M163.0,362.2H168M163.0,336.4H168M163.0,310.6H168M158.2,284.7H168M163.0,258.9H168M163.0,233.0H168M163.0,207.2H168M163.0,181.4H168M158.2,155.5H168M163.0,129.7H168M163.0,103.9H168M163.0,78.0H168M163.0,52.2H168M158.2,26.4H168" stroke="#111" stroke-width="2.1" fill="none"/>
<path d="M157.0,2212.6H167M162.0,2171.2H167M162.0,2129.9H167M162.0,2088.5H167M162.0,2047.1H167M157.0,2005.8H167M162.0,1964.4H167M162.0,1923.0H167M162.0,1881.6H167M162.0,1840.3H167M157.0,1798.9H167M162.0,1757.5H167M162.0,1716.2H167M162.0,1674.8H167M162.0,1633.4H167M157.0,1592.0H167M162.0,1550.7H167M162.0,1509.3H167M162.0,1467.9H167M162.0,1426.6H167M157.0,1385.2H167M162.0,1343.8H167M162.0,1302.5H167M162.0,1261.1H167M162.0,1219.7H167M157.0,1178.3H167" stroke="#111" stroke-width="2.1" fill="none"/>
<path d="M257.2,1048.0V1058M343.3,1048.0V1058M429.4,1048.0V1058M515.6,1048.0V1058M601.7,1048.0V1058M687.8,1048.0V1058M773.9,1048.0V1058M860.1,1048.0V1058M946.2,1048.0V1058M1032.3,1048.0V1058M1118.5,1048.0V1058M1204.6,1048.0V1058M1290.7,1048.0V1058M1376.8,1048.0V1058M1463.0,1048.0V1058M1549.1,1048.0V1058M1635.2,1048.0V1058" stroke="#111" stroke-width="2.1" fill="none"/>
<path d="M254.4,2201.0V2211M340.6,2201.0V2211M426.8,2201.0V2211M513.0,2201.0V2211M599.2,2201.0V2211M685.4,2201.0V2211M771.6,2201.0V2211M857.8,2201.0V2211M944.0,2201.0V2211M1030.2,2201.0V2211M1116.4,2201.0V2211M1202.6,2201.0V2211M1288.8,2201.0V2211M1375.0,2201.0V2211M1461.2,2201.0V2211M1547.4,2201.0V2211M1633.6,2201.0V2211" stroke="#111" stroke-width="2.1" fill="none"/>
<rect x="199.5" y="1030.4" width="30" height="30" fill="#d8232a"/><rect x="199.1" y="1030.0" width="28.4" height="28.4" fill="#d2262b" stroke="#231f20" stroke-width="1.8"/>
<rect x="285.7" y="958.7" width="30" height="30" fill="#d8232a"/><rect x="285.3" y="958.3" width="28.4" height="28.4" fill="#d2262b" stroke="#231f20" stroke-width="1.8"/>
<rect x="372.4" y="646.2" width="30" height="30" fill="#d8232a"/><rect x="372.0" y="645.8" width="28.4" height="28.4" fill="#d2262b" stroke="#231f20" stroke-width="1.8"/>
<rect x="458.1" y="658.4" width="30" height="30" fill="#d8232a"/><rect x="457.7" y="658.0" width="28.4" height="28.4" fill="#d2262b" stroke="#231f20" stroke-width="1.8"/>
<rect x="544.3" y="818.3" width="30" height="30" fill="#d8232a"/><rect x="543.9" y="817.9" width="28.4" height="28.4" fill="#d2262b" stroke="#231f20" stroke-width="1.8"/>
<rect x="630.6" y="916.9" width="30" height="30" fill="#d8232a"/><rect x="630.2" y="916.5" width="28.4" height="28.4" fill="#d2262b" stroke="#231f20" stroke-width="1.8"/>
<rect x="716.5" y="970.4" width="30" height="30" fill="#d8232a"/><rect x="716.1" y="970.0" width="28.4" height="28.4" fill="#d2262b" stroke="#231f20" stroke-width="1.8"/>
<rect x="802.3" y="999.5" width="30" height="30" fill="#d8232a"/><rect x="801.9" y="999.1" width="28.4" height="28.4" fill="#d2262b" stroke="#231f20" stroke-width="1.8"/>
<rect x="888.8" y="940.5" width="30" height="30" fill="#d8232a"/><rect x="888.4" y="940.1" width="28.4" height="28.4" fill="#d2262b" stroke="#231f20" stroke-width="1.8"/>
<rect x="975.0" y="927.8" width="30" height="30" fill="#d8232a"/><rect x="974.6" y="927.4" width="28.4" height="28.4" fill="#d2262b" stroke="#231f20" stroke-width="1.8"/>
<rect x="1060.4" y="955.9" width="30" height="30" fill="#d8232a"/><rect x="1060.0" y="955.5" width="28.4" height="28.4" fill="#d2262b" stroke="#231f20" stroke-width="1.8"/>
<rect x="1147.7" y="980.8" width="30" height="30" fill="#d8232a"/><rect x="1147.3" y="980.4" width="28.4" height="28.4" fill="#d2262b" stroke="#231f20" stroke-width="1.8"/>
<rect x="1231.2" y="1007.9" width="30" height="30" fill="#d8232a"/><rect x="1230.8" y="1007.5" width="28.4" height="28.4" fill="#d2262b" stroke="#231f20" stroke-width="1.8"/>
<rect x="1318.9" y="1030.8" width="30" height="30" fill="#d8232a"/><rect x="1318.5" y="1030.4" width="28.4" height="28.4" fill="#d2262b" stroke="#231f20" stroke-width="1.8"/>
<rect x="1405.5" y="1042.2" width="30" height="30" fill="#d8232a"/><rect x="1405.1" y="1041.8" width="28.4" height="28.4" fill="#d2262b" stroke="#231f20" stroke-width="1.8"/>
<rect x="1492.2" y="1042.6" width="30" height="30" fill="#d8232a"/><rect x="1491.8" y="1042.2" width="28.4" height="28.4" fill="#d2262b" stroke="#231f20" stroke-width="1.8"/>
<rect x="1576.6" y="1038.2" width="30" height="30" fill="#d8232a"/><rect x="1576.2" y="1037.8" width="28.4" height="28.4" fill="#d2262b" stroke="#231f20" stroke-width="1.8"/>
<rect x="1663.2" y="1042.2" width="30" height="30" fill="#d8232a"/><rect x="1662.8" y="1041.8" width="28.4" height="28.4" fill="#d2262b" stroke="#231f20" stroke-width="1.8"/>
<rect x="197.8" y="1581.5" width="30" height="30" fill="#d8232a"/><rect x="197.4" y="1581.1" width="28.4" height="28.4" fill="#d2262b" stroke="#231f20" stroke-width="1.8"/>
<rect x="284.0" y="1807.9" width="30" height="30" fill="#d8232a"/><rect x="283.6" y="1807.5" width="28.4" height="28.4" fill="#d2262b" stroke="#231f20" stroke-width="1.8"/>
<rect x="370.3" y="1695.0" width="30" height="30" fill="#d8232a"/><rect x="369.9" y="1694.6" width="28.4" height="28.4" fill="#d2262b" stroke="#231f20" stroke-width="1.8"/>
<rect x="456.2" y="1786.1" width="30" height="30" fill="#d8232a"/><rect x="455.8" y="1785.7" width="28.4" height="28.4" fill="#d2262b" stroke="#231f20" stroke-width="1.8"/>
<rect x="542.4" y="1979.5" width="30" height="30" fill="#d8232a"/><rect x="542.0" y="1979.1" width="28.4" height="28.4" fill="#d2262b" stroke="#231f20" stroke-width="1.8"/>
<rect x="628.7" y="2062.5" width="30" height="30" fill="#d8232a"/><rect x="628.3" y="2062.1" width="28.4" height="28.4" fill="#d2262b" stroke="#231f20" stroke-width="1.8"/>
<rect x="713.7" y="2120.6" width="30" height="30" fill="#d8232a"/><rect x="713.3" y="2120.2" width="28.4" height="28.4" fill="#d2262b" stroke="#231f20" stroke-width="1.8"/>
<rect x="801.1" y="2130.8" width="30" height="30" fill="#d8232a"/><rect x="800.7" y="2130.4" width="28.4" height="28.4" fill="#d2262b" stroke="#231f20" stroke-width="1.8"/>
<rect x="887.8" y="2031.9" width="30" height="30" fill="#d8232a"/><rect x="887.4" y="2031.5" width="28.4" height="28.4" fill="#d2262b" stroke="#231f20" stroke-width="1.8"/>
<rect x="973.5" y="2019.5" width="30" height="30" fill="#d8232a"/><rect x="973.1" y="2019.1" width="28.4" height="28.4" fill="#d2262b" stroke="#231f20" stroke-width="1.8"/>
<rect x="1060.1" y="2042.8" width="30" height="30" fill="#d8232a"/><rect x="1059.7" y="2042.4" width="28.4" height="28.4" fill="#d2262b" stroke="#231f20" stroke-width="1.8"/>
<rect x="1146.2" y="2088.5" width="30" height="30" fill="#d8232a"/><rect x="1145.8" y="2088.1" width="28.4" height="28.4" fill="#d2262b" stroke="#231f20" stroke-width="1.8"/>
<rect x="1232.4" y="2046.7" width="30" height="30" fill="#d8232a"/><rect x="1232.0" y="2046.3" width="28.4" height="28.4" fill="#d2262b" stroke="#231f20" stroke-width="1.8"/>
<rect x="1317.9" y="1951.7" width="30" height="30" fill="#d8232a"/><rect x="1317.5" y="1951.3" width="28.4" height="28.4" fill="#d2262b" stroke="#231f20" stroke-width="1.8"/>
<rect x="1404.4" y="1888.7" width="30" height="30" fill="#d8232a"/><rect x="1404.0" y="1888.3" width="28.4" height="28.4" fill="#d2262b" stroke="#231f20" stroke-width="1.8"/>
<rect x="1490.0" y="2163.7" width="30" height="30" fill="#d8232a"/><rect x="1489.6" y="2163.3" width="28.4" height="28.4" fill="#d2262b" stroke="#231f20" stroke-width="1.8"/>
<rect x="1576.3" y="2181.8" width="30" height="30" fill="#d8232a"/><rect x="1575.9" y="2181.4" width="28.4" height="28.4" fill="#d2262b" stroke="#231f20" stroke-width="1.8"/>
<rect x="1662.6" y="2184.7" width="30" height="30" fill="#d8232a"/><rect x="1662.2" y="2184.3" width="28.4" height="28.4" fill="#d2262b" stroke="#231f20" stroke-width="1.8"/>
<text x="-3" y="52.2" font-size="65">(a)</text>
<text x="-3" y="1215.4" font-size="65">(b)</text>
<text transform="translate(145.2,940.1) scale(1,1.04)" font-size="50.5" text-anchor="end" >10</text>
<text transform="translate(145.2,810.9) scale(1,1.04)" font-size="50.5" text-anchor="end" >20</text>
<text transform="translate(145.2,681.8) scale(1,1.04)" font-size="50.5" text-anchor="end" >30</text>
<text transform="translate(145.2,552.6) scale(1,1.04)" font-size="50.5" text-anchor="end" >40</text>
<text transform="translate(145.2,423.4) scale(1,1.04)" font-size="50.5" text-anchor="end" >50</text>
<text transform="translate(145.2,294.2) scale(1,1.04)" font-size="50.5" text-anchor="end" >60</text>
<text transform="translate(145.2,165.0) scale(1,1.04)" font-size="50.5" text-anchor="end" >70</text>
<text transform="translate(145.2,35.9) scale(1,1.04)" font-size="50.5" text-anchor="end" >80</text>
<text transform="translate(99.3,1069.3) scale(1,1.04)" font-size="50.5" text-anchor="start" >0</text>
<text transform="translate(145.2,2015.2) scale(1,1.04)" font-size="50.5" text-anchor="end" >10</text>
<text transform="translate(145.2,1808.4) scale(1,1.04)" font-size="50.5" text-anchor="end" >20</text>
<text transform="translate(145.2,1601.5) scale(1,1.04)" font-size="50.5" text-anchor="end" >30</text>
<text transform="translate(145.2,1394.7) scale(1,1.04)" font-size="50.5" text-anchor="end" >40</text>
<text transform="translate(145.2,1187.8) scale(1,1.04)" font-size="50.5" text-anchor="end" >50</text>
<text transform="translate(99.3,2222.1) scale(1,1.04)" font-size="50.5" text-anchor="start" >0</text>
<text transform="translate(238.0,1111.5) scale(1,1.04)" font-size="47" text-anchor="start" >80</text>
<text transform="translate(410.3,1111.5) scale(1,1.04)" font-size="47" text-anchor="start" >60</text>
<text transform="translate(582.2,1111.5) scale(1,1.04)" font-size="47" text-anchor="start" >40</text>
<text transform="translate(754.3,1111.5) scale(1,1.04)" font-size="47" text-anchor="start" >20</text>
<text transform="translate(933.2,1111.5) scale(1,1.04)" font-size="47" text-anchor="start" >0</text>
<text transform="translate(1097.5,1111.5) scale(1,1.04)" font-size="47" text-anchor="start" >-20</text>
<text transform="translate(1269.4,1111.5) scale(1,1.04)" font-size="47" text-anchor="start" >-40</text>
<text transform="translate(1442.6,1111.5) scale(1,1.04)" font-size="47" text-anchor="start" >-60</text>
<text transform="translate(1614.6,1111.5) scale(1,1.04)" font-size="47" text-anchor="start" >-80</text>
<text transform="translate(234.0,2256.0) scale(1,1.04)" font-size="47" text-anchor="start" >80</text>
<text transform="translate(406.7,2256.0) scale(1,1.04)" font-size="47" text-anchor="start" >60</text>
<text transform="translate(578.6,2256.0) scale(1,1.04)" font-size="47" text-anchor="start" >40</text>
<text transform="translate(750.4,2256.0) scale(1,1.04)" font-size="47" text-anchor="start" >20</text>
<text transform="translate(929.6,2256.0) scale(1,1.04)" font-size="47" text-anchor="start" >0</text>
<text transform="translate(1094.0,2256.0) scale(1,1.04)" font-size="47" text-anchor="start" >-20</text>
<text transform="translate(1267.4,2256.0) scale(1,1.04)" font-size="47" text-anchor="start" >-40</text>
<text transform="translate(1439.6,2256.0) scale(1,1.04)" font-size="47" text-anchor="start" >-60</text>
<text transform="translate(1611.8,2256.0) scale(1,1.04)" font-size="47" text-anchor="start" >-80</text>
<text transform="translate(61.0,994.7) rotate(-90) scale(1,1.04)" font-size="50.3" text-anchor="start" >cSoil stock (Pg C per degree latitude)</text>
<text transform="translate(60.8,2064.4) rotate(-90) scale(1,1.04)" font-size="50.3">Mean cSoil density (kg C m <tspan font-size="40" dy="-7">&#8722;2</tspan><tspan dy="7">)</tspan></text>
<text transform="translate(655.3,2334.2) scale(1,1.04)" font-size="50" text-anchor="start" letter-spacing="2.75">Latitude (degrees North)</text>
<path d="M732.4,85.7H798" stroke="#80ced6" stroke-width="3.8"/>
<text transform="translate(806.6,97.9) scale(1,1.04)" font-size="39.6" text-anchor="start" >ACCESS-ESM1-5</text>
<path d="M732.4,128.8H798" stroke="#fdc68f" stroke-width="3.8"/>
<text transform="translate(806.6,141.0) scale(1,1.04)" font-size="39.6" text-anchor="start" >BCC-CSM2-MR</text>
<path d="M732.4,171.8H798" stroke="#82c341" stroke-width="3.8"/>
<text transform="translate(806.6,184.0) scale(1,1.04)" font-size="39.6" text-anchor="start" >CanESM5</text>
<path d="M732.4,214.9H798" stroke="#b28f33" stroke-width="3.8"/>
<text transform="translate(806.6,227.1) scale(1,1.04)" font-size="39.6" text-anchor="start" >CESM2</text>
<path d="M732.4,257.9H798" stroke="#80ced6" stroke-width="3.8"/>
<text transform="translate(806.6,270.1) scale(1,1.04)" font-size="39.6" text-anchor="start" >CMCC-CM2-SR5</text>
<path d="M732.4,301.0H798" stroke="#e5aacf" stroke-width="3.8"/>
<text transform="translate(806.6,313.2) scale(1,1.04)" font-size="39.6" text-anchor="start" >CNRM-ESM2-1</text>
<path d="M732.4,344.1H798" stroke="#2346a0" stroke-width="3.8"/>
<text transform="translate(806.6,356.3) scale(1,1.04)" font-size="39.6" text-anchor="start" >EC-Earth3-Veg</text>
<path d="M732.4,387.1H798" stroke="#d2472a" stroke-width="3.8"/>
<text transform="translate(806.6,399.3) scale(1,1.04)" font-size="39.6" text-anchor="start" >GFDL-ESM4</text>
<path d="M732.4,430.2H798" stroke="#2e7d3f" stroke-width="3.8"/>
<text transform="translate(806.6,442.4) scale(1,1.04)" font-size="39.6" text-anchor="start" >GISS-E2-1-G</text>
<path d="M1197.4,85.8H1262.7" stroke="#6f4ca1" stroke-width="3.8"/>
<text transform="translate(1272.3,98.0) scale(1,1.04)" font-size="39.6" text-anchor="start" >IPSL-CM6A-LR</text>
<path d="M1197.4,128.9H1262.7" stroke="#ec2228" stroke-width="3.8"/>
<text transform="translate(1272.3,141.1) scale(1,1.04)" font-size="39.6" text-anchor="start" >MIROC-ES2L</text>
<path d="M1197.4,171.9H1262.7" stroke="#5a4440" stroke-width="3.8"/>
<text transform="translate(1272.3,184.1) scale(1,1.04)" font-size="39.6" text-anchor="start" >MPI-ESM1-2-LR</text>
<path d="M1197.4,215.0H1262.7" stroke="#b2b2b2" stroke-width="3.8"/>
<text transform="translate(1272.3,227.2) scale(1,1.04)" font-size="39.6" text-anchor="start" >MRI-ESM2-0</text>
<path d="M1197.4,258.0H1262.7" stroke="#f58634" stroke-width="3.8"/>
<text transform="translate(1272.3,270.2) scale(1,1.04)" font-size="39.6" text-anchor="start" >NorESM2-LM</text>
<path d="M1197.4,301.1H1262.7" stroke="#e8e83a" stroke-width="3.8"/>
<text transform="translate(1272.3,313.3) scale(1,1.04)" font-size="39.6" text-anchor="start" >UKESM1-0-LL</text>
<rect x="1218.4" y="338.8" width="30" height="30" fill="#d8232a"/><rect x="1218.0" y="338.4" width="28.4" height="28.4" fill="#d2262b" stroke="#231f20" stroke-width="1.8"/>
<text transform="translate(1272.7,365.6) scale(1,1.04)" font-size="39.6" text-anchor="start" >Model ensemble mean</text>
<path d="M1222.4,447.8H1232.5M1248.1,447.8H1290" stroke="#231f20" stroke-width="8.6"/>
<path d="M1222.4,490.9H1290" stroke="#231f20" stroke-width="8.6" stroke-dasharray="9.6 4.9"/>
<text transform="translate(1300.4,460.6) scale(1,1.04)" font-size="39.6" text-anchor="start" >WISE30sec</text>
<text transform="translate(1299.6,503.2) scale(1,1.04)" font-size="39.6" text-anchor="start" >HWSD</text></svg></body></html>
